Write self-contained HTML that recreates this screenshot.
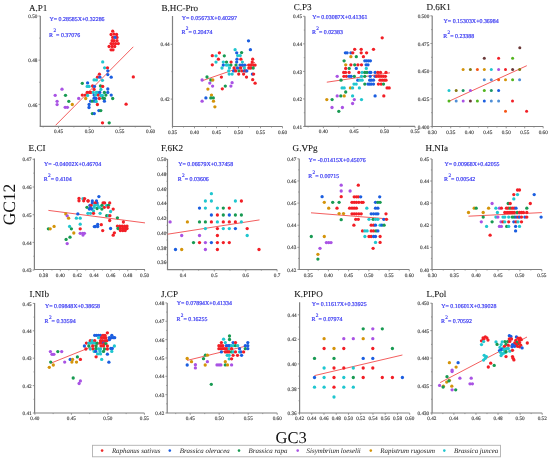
<!DOCTYPE html>
<html><head><meta charset="utf-8"><style>
html,body{margin:0;padding:0;background:#fff;}
svg{display:block;font-family:"Liberation Serif", serif;text-rendering:geometricPrecision;will-change:transform;}
</style></head><body>
<svg width="550" height="460" viewBox="0 0 550 460">
<rect width="550" height="460" fill="#fff"/>
<line x1="40.30" y1="16.00" x2="40.30" y2="126.40" stroke="#808080" stroke-width="1.2"/>
<line x1="39.70" y1="126.40" x2="150.60" y2="126.40" stroke="#808080" stroke-width="1.2"/>
<line x1="58.50" y1="126.40" x2="58.50" y2="128.20" stroke="#808080" stroke-width="0.8"/>
<text x="58.50" y="133.40" font-size="5.2" fill="#484848" text-anchor="middle" stroke="#484848" stroke-width="0.16">0.45</text>
<line x1="89.20" y1="126.40" x2="89.20" y2="128.20" stroke="#808080" stroke-width="0.8"/>
<text x="89.20" y="133.40" font-size="5.2" fill="#484848" text-anchor="middle" stroke="#484848" stroke-width="0.16">0.50</text>
<line x1="119.90" y1="126.40" x2="119.90" y2="128.20" stroke="#808080" stroke-width="0.8"/>
<text x="119.90" y="133.40" font-size="5.2" fill="#484848" text-anchor="middle" stroke="#484848" stroke-width="0.16">0.55</text>
<line x1="150.60" y1="126.40" x2="150.60" y2="128.20" stroke="#808080" stroke-width="0.8"/>
<text x="150.60" y="133.40" font-size="5.2" fill="#484848" text-anchor="middle" stroke="#484848" stroke-width="0.16">0.60</text>
<line x1="43.15" y1="126.40" x2="43.15" y2="127.50" stroke="#808080" stroke-width="0.7"/>
<line x1="73.85" y1="126.40" x2="73.85" y2="127.50" stroke="#808080" stroke-width="0.7"/>
<line x1="104.55" y1="126.40" x2="104.55" y2="127.50" stroke="#808080" stroke-width="0.7"/>
<line x1="135.25" y1="126.40" x2="135.25" y2="127.50" stroke="#808080" stroke-width="0.7"/>
<line x1="40.30" y1="16.00" x2="38.50" y2="16.00" stroke="#808080" stroke-width="0.8"/>
<text x="37.40" y="18.10" font-size="5.2" fill="#484848" text-anchor="end" stroke="#484848" stroke-width="0.16">0.50</text>
<line x1="40.30" y1="60.20" x2="38.50" y2="60.20" stroke="#808080" stroke-width="0.8"/>
<text x="37.40" y="62.30" font-size="5.2" fill="#484848" text-anchor="end" stroke="#484848" stroke-width="0.16">0.48</text>
<line x1="40.30" y1="104.40" x2="38.50" y2="104.40" stroke="#808080" stroke-width="0.8"/>
<text x="37.40" y="106.50" font-size="5.2" fill="#484848" text-anchor="end" stroke="#484848" stroke-width="0.16">0.46</text>
<line x1="40.30" y1="38.10" x2="39.20" y2="38.10" stroke="#808080" stroke-width="0.7"/>
<line x1="40.30" y1="82.30" x2="39.20" y2="82.30" stroke="#808080" stroke-width="0.7"/>
<text x="28.90" y="10.60" font-size="9.1" fill="#151515" text-anchor="start" stroke="#151515" stroke-width="0.1">A.P1</text>
<text x="49.50" y="21.10" font-size="5.92" fill="#3c3cf2" text-anchor="start" stroke="#3c3cf2" stroke-width="0.2">Y= 0.28585X+0.32286</text>
<text x="49.10" y="36.50" font-size="5.92" fill="#3c3cf2" text-anchor="start" stroke="#3c3cf2" stroke-width="0.2">R</text>
<text x="53.40" y="32.40" font-size="5.3" fill="#3c3cf2" text-anchor="start" stroke="#3c3cf2" stroke-width="0.2">2</text>
<text x="56.10" y="36.50" font-size="5.92" fill="#3c3cf2" text-anchor="start" stroke="#3c3cf2" stroke-width="0.2">= 0.37076</text>
<line x1="55.60" y1="125.30" x2="133.30" y2="46.80" stroke="#f25555" stroke-width="0.95"/>
<circle cx="112.7" cy="31.2" r="1.65" fill="#f21f26"/>
<circle cx="111.1" cy="34.5" r="1.65" fill="#f21f26"/>
<circle cx="114.0" cy="34.1" r="1.65" fill="#f21f26"/>
<circle cx="116.6" cy="34.5" r="1.65" fill="#f21f26"/>
<circle cx="112.7" cy="37.4" r="1.65" fill="#f21f26"/>
<circle cx="117.0" cy="37.4" r="1.65" fill="#f21f26"/>
<circle cx="115.0" cy="37.4" r="1.65" fill="#1b5ee0"/>
<circle cx="112.1" cy="40.7" r="1.65" fill="#f21f26"/>
<circle cx="114.0" cy="40.7" r="1.65" fill="#f21f26"/>
<circle cx="117.0" cy="40.7" r="1.65" fill="#f21f26"/>
<circle cx="111.1" cy="43.6" r="1.65" fill="#f21f26"/>
<circle cx="113.4" cy="43.6" r="1.65" fill="#f21f26"/>
<circle cx="115.7" cy="43.6" r="1.65" fill="#f21f26"/>
<circle cx="118.3" cy="43.6" r="1.65" fill="#f21f26"/>
<circle cx="109.1" cy="46.5" r="1.65" fill="#f21f26"/>
<circle cx="112.1" cy="46.5" r="1.65" fill="#f21f26"/>
<circle cx="114.7" cy="46.5" r="1.65" fill="#f21f26"/>
<circle cx="111.1" cy="49.8" r="1.65" fill="#f21f26"/>
<circle cx="113.0" cy="49.8" r="1.65" fill="#f21f26"/>
<circle cx="102.7" cy="61.9" r="1.65" fill="#20c6cf"/>
<circle cx="104.6" cy="67.8" r="1.65" fill="#20c6cf"/>
<circle cx="107.5" cy="67.8" r="1.65" fill="#f21f26"/>
<circle cx="133.3" cy="76.9" r="1.65" fill="#f21f26"/>
<circle cx="126.1" cy="104.2" r="1.65" fill="#f21f26"/>
<circle cx="107.8" cy="70.8" r="1.65" fill="#1b5ee0"/>
<circle cx="99.4" cy="74.2" r="1.65" fill="#f21f26"/>
<circle cx="107.8" cy="74.6" r="1.65" fill="#1b5ee0"/>
<circle cx="97.5" cy="77.2" r="1.65" fill="#f21f26"/>
<circle cx="99.9" cy="77.2" r="1.65" fill="#1b5ee0"/>
<circle cx="111.2" cy="77.2" r="1.65" fill="#1b5ee0"/>
<circle cx="94.1" cy="79.9" r="1.65" fill="#20c6cf"/>
<circle cx="96.4" cy="79.9" r="1.65" fill="#20c6cf"/>
<circle cx="102.4" cy="80.3" r="1.65" fill="#20c6cf"/>
<circle cx="82.3" cy="83.3" r="1.65" fill="#189a52"/>
<circle cx="87.6" cy="82.9" r="1.65" fill="#1b5ee0"/>
<circle cx="87.2" cy="86.4" r="1.65" fill="#20c6cf"/>
<circle cx="89.1" cy="86.4" r="1.65" fill="#20c6cf"/>
<circle cx="92.6" cy="86.0" r="1.65" fill="#f21f26"/>
<circle cx="94.5" cy="86.4" r="1.65" fill="#1b5ee0"/>
<circle cx="100.5" cy="86.0" r="1.65" fill="#189a52"/>
<circle cx="102.7" cy="86.4" r="1.65" fill="#f21f26"/>
<circle cx="94.1" cy="89.4" r="1.65" fill="#f21f26"/>
<circle cx="100.9" cy="89.4" r="1.65" fill="#20c6cf"/>
<circle cx="107.8" cy="89.0" r="1.65" fill="#1b5ee0"/>
<circle cx="87.2" cy="92.4" r="1.65" fill="#f21f26"/>
<circle cx="89.5" cy="92.4" r="1.65" fill="#f21f26"/>
<circle cx="90.7" cy="92.4" r="1.65" fill="#f21f26"/>
<circle cx="93.3" cy="92.4" r="1.65" fill="#20c6cf"/>
<circle cx="96.4" cy="92.4" r="1.65" fill="#20c6cf"/>
<circle cx="97.9" cy="92.4" r="1.65" fill="#20c6cf"/>
<circle cx="99.8" cy="92.4" r="1.65" fill="#1b5ee0"/>
<circle cx="104.4" cy="92.4" r="1.65" fill="#189a52"/>
<circle cx="107.8" cy="92.4" r="1.65" fill="#1b5ee0"/>
<circle cx="82.3" cy="95.1" r="1.65" fill="#f21f26"/>
<circle cx="85.3" cy="95.1" r="1.65" fill="#f21f26"/>
<circle cx="87.6" cy="95.5" r="1.65" fill="#20c6cf"/>
<circle cx="94.1" cy="95.1" r="1.65" fill="#1b5ee0"/>
<circle cx="95.6" cy="95.1" r="1.65" fill="#20c6cf"/>
<circle cx="98.3" cy="95.1" r="1.65" fill="#f21f26"/>
<circle cx="100.9" cy="95.5" r="1.65" fill="#20c6cf"/>
<circle cx="102.4" cy="95.5" r="1.65" fill="#20c6cf"/>
<circle cx="105.9" cy="95.1" r="1.65" fill="#189a52"/>
<circle cx="111.2" cy="95.1" r="1.65" fill="#1b5ee0"/>
<circle cx="85.7" cy="98.5" r="1.65" fill="#d4940a"/>
<circle cx="94.1" cy="98.2" r="1.65" fill="#1b5ee0"/>
<circle cx="96.0" cy="98.5" r="1.65" fill="#1b5ee0"/>
<circle cx="99.4" cy="98.5" r="1.65" fill="#f21f26"/>
<circle cx="102.8" cy="98.2" r="1.65" fill="#189a52"/>
<circle cx="104.4" cy="98.5" r="1.65" fill="#189a52"/>
<circle cx="112.7" cy="98.5" r="1.65" fill="#189a52"/>
<circle cx="90.7" cy="101.2" r="1.65" fill="#1b5ee0"/>
<circle cx="92.6" cy="101.2" r="1.65" fill="#189a52"/>
<circle cx="94.8" cy="101.2" r="1.65" fill="#1b5ee0"/>
<circle cx="104.4" cy="101.2" r="1.65" fill="#1b5ee0"/>
<circle cx="96.2" cy="101.5" r="1.65" fill="#20c6cf"/>
<circle cx="89.1" cy="104.5" r="1.65" fill="#1b5ee0"/>
<circle cx="97.4" cy="104.5" r="1.65" fill="#f21f26"/>
<circle cx="89.0" cy="107.5" r="1.65" fill="#1b5ee0"/>
<circle cx="98.9" cy="110.6" r="1.65" fill="#1b5ee0"/>
<circle cx="100.8" cy="110.6" r="1.65" fill="#189a52"/>
<circle cx="92.4" cy="113.6" r="1.65" fill="#189a52"/>
<circle cx="94.3" cy="113.6" r="1.65" fill="#1b5ee0"/>
<circle cx="102.5" cy="122.8" r="1.65" fill="#f21f26"/>
<circle cx="109.2" cy="122.8" r="1.65" fill="#189a52"/>
<circle cx="62.0" cy="89.2" r="1.65" fill="#a953e4"/>
<circle cx="55.2" cy="95.3" r="1.65" fill="#a953e4"/>
<circle cx="65.5" cy="95.3" r="1.65" fill="#189a52"/>
<circle cx="57.1" cy="101.3" r="1.65" fill="#a953e4"/>
<circle cx="57.1" cy="104.6" r="1.65" fill="#a953e4"/>
<circle cx="68.8" cy="101.3" r="1.65" fill="#189a52"/>
<circle cx="72.3" cy="104.5" r="1.65" fill="#d4940a"/>
<circle cx="65.2" cy="107.3" r="1.65" fill="#a953e4"/>
<circle cx="67.4" cy="107.3" r="1.65" fill="#a953e4"/>
<circle cx="78.7" cy="98.4" r="1.65" fill="#a953e4"/>
<line x1="172.50" y1="16.00" x2="172.50" y2="126.50" stroke="#808080" stroke-width="1.2"/>
<line x1="171.90" y1="126.50" x2="282.50" y2="126.50" stroke="#808080" stroke-width="1.2"/>
<line x1="172.50" y1="126.50" x2="172.50" y2="128.30" stroke="#808080" stroke-width="0.8"/>
<text x="172.50" y="133.50" font-size="5.2" fill="#484848" text-anchor="middle" stroke="#484848" stroke-width="0.16">0.35</text>
<line x1="194.50" y1="126.50" x2="194.50" y2="128.30" stroke="#808080" stroke-width="0.8"/>
<text x="194.50" y="133.50" font-size="5.2" fill="#484848" text-anchor="middle" stroke="#484848" stroke-width="0.16">0.40</text>
<line x1="216.50" y1="126.50" x2="216.50" y2="128.30" stroke="#808080" stroke-width="0.8"/>
<text x="216.50" y="133.50" font-size="5.2" fill="#484848" text-anchor="middle" stroke="#484848" stroke-width="0.16">0.45</text>
<line x1="238.50" y1="126.50" x2="238.50" y2="128.30" stroke="#808080" stroke-width="0.8"/>
<text x="238.50" y="133.50" font-size="5.2" fill="#484848" text-anchor="middle" stroke="#484848" stroke-width="0.16">0.50</text>
<line x1="260.50" y1="126.50" x2="260.50" y2="128.30" stroke="#808080" stroke-width="0.8"/>
<text x="260.50" y="133.50" font-size="5.2" fill="#484848" text-anchor="middle" stroke="#484848" stroke-width="0.16">0.55</text>
<line x1="282.50" y1="126.50" x2="282.50" y2="128.30" stroke="#808080" stroke-width="0.8"/>
<text x="282.50" y="133.50" font-size="5.2" fill="#484848" text-anchor="middle" stroke="#484848" stroke-width="0.16">0.60</text>
<line x1="183.50" y1="126.50" x2="183.50" y2="127.60" stroke="#808080" stroke-width="0.7"/>
<line x1="205.50" y1="126.50" x2="205.50" y2="127.60" stroke="#808080" stroke-width="0.7"/>
<line x1="227.50" y1="126.50" x2="227.50" y2="127.60" stroke="#808080" stroke-width="0.7"/>
<line x1="249.50" y1="126.50" x2="249.50" y2="127.60" stroke="#808080" stroke-width="0.7"/>
<line x1="271.50" y1="126.50" x2="271.50" y2="127.60" stroke="#808080" stroke-width="0.7"/>
<line x1="172.50" y1="44.30" x2="170.70" y2="44.30" stroke="#808080" stroke-width="0.8"/>
<text x="169.60" y="46.40" font-size="5.2" fill="#484848" text-anchor="end" stroke="#484848" stroke-width="0.16">0.44</text>
<line x1="172.50" y1="99.10" x2="170.70" y2="99.10" stroke="#808080" stroke-width="0.8"/>
<text x="169.60" y="101.20" font-size="5.2" fill="#484848" text-anchor="end" stroke="#484848" stroke-width="0.16">0.42</text>
<line x1="172.50" y1="71.70" x2="171.40" y2="71.70" stroke="#808080" stroke-width="0.7"/>
<text x="161.50" y="10.60" font-size="9.1" fill="#151515" text-anchor="start" stroke="#151515" stroke-width="0.1">B.HC-Pro</text>
<text x="181.80" y="19.60" font-size="5.92" fill="#3c3cf2" text-anchor="start" stroke="#3c3cf2" stroke-width="0.2">Y= 0.05673X+0.40297</text>
<text x="181.40" y="34.20" font-size="5.92" fill="#3c3cf2" text-anchor="start" stroke="#3c3cf2" stroke-width="0.2">R</text>
<text x="185.70" y="30.10" font-size="5.3" fill="#3c3cf2" text-anchor="start" stroke="#3c3cf2" stroke-width="0.2">2</text>
<text x="188.40" y="34.20" font-size="5.92" fill="#3c3cf2" text-anchor="start" stroke="#3c3cf2" stroke-width="0.2">= 0.20474</text>
<line x1="202.40" y1="80.70" x2="255.00" y2="62.40" stroke="#f25555" stroke-width="0.95"/>
<circle cx="250.4" cy="49.7" r="1.65" fill="#1b5ee0"/>
<circle cx="235.1" cy="49.7" r="1.65" fill="#20c6cf"/>
<circle cx="219.4" cy="52.8" r="1.65" fill="#f21f26"/>
<circle cx="236.7" cy="52.8" r="1.65" fill="#1b5ee0"/>
<circle cx="241.6" cy="52.6" r="1.65" fill="#189a52"/>
<circle cx="224.3" cy="55.8" r="1.65" fill="#189a52"/>
<circle cx="237.7" cy="55.6" r="1.65" fill="#20c6cf"/>
<circle cx="240.2" cy="55.6" r="1.65" fill="#20c6cf"/>
<circle cx="218.4" cy="59.2" r="1.65" fill="#f21f26"/>
<circle cx="237.0" cy="59.2" r="1.65" fill="#1b5ee0"/>
<circle cx="240.9" cy="59.2" r="1.65" fill="#f21f26"/>
<circle cx="252.7" cy="59.2" r="1.65" fill="#f21f26"/>
<circle cx="216.0" cy="55.8" r="1.65" fill="#20c6cf"/>
<circle cx="216.0" cy="62.1" r="1.65" fill="#20c6cf"/>
<circle cx="223.3" cy="62.1" r="1.65" fill="#20c6cf"/>
<circle cx="226.5" cy="62.1" r="1.65" fill="#189a52"/>
<circle cx="231.1" cy="62.1" r="1.65" fill="#f21f26"/>
<circle cx="236.7" cy="62.1" r="1.65" fill="#1b5ee0"/>
<circle cx="242.4" cy="62.1" r="1.65" fill="#20c6cf"/>
<circle cx="252.2" cy="62.1" r="1.65" fill="#f21f26"/>
<circle cx="223.3" cy="65.1" r="1.65" fill="#1b5ee0"/>
<circle cx="226.3" cy="65.1" r="1.65" fill="#20c6cf"/>
<circle cx="228.2" cy="65.1" r="1.65" fill="#20c6cf"/>
<circle cx="230.9" cy="65.1" r="1.65" fill="#189a52"/>
<circle cx="236.0" cy="65.1" r="1.65" fill="#189a52"/>
<circle cx="240.0" cy="65.1" r="1.65" fill="#1b5ee0"/>
<circle cx="242.4" cy="65.1" r="1.65" fill="#1b5ee0"/>
<circle cx="244.8" cy="65.1" r="1.65" fill="#1b5ee0"/>
<circle cx="248.8" cy="65.1" r="1.65" fill="#f21f26"/>
<circle cx="251.2" cy="65.1" r="1.65" fill="#f21f26"/>
<circle cx="253.6" cy="65.1" r="1.65" fill="#f21f26"/>
<circle cx="255.1" cy="65.1" r="1.65" fill="#f21f26"/>
<circle cx="222.0" cy="68.0" r="1.65" fill="#20c6cf"/>
<circle cx="229.5" cy="68.0" r="1.65" fill="#20c6cf"/>
<circle cx="234.1" cy="68.0" r="1.65" fill="#f21f26"/>
<circle cx="237.5" cy="68.0" r="1.65" fill="#1b5ee0"/>
<circle cx="240.6" cy="68.0" r="1.65" fill="#f21f26"/>
<circle cx="244.4" cy="68.0" r="1.65" fill="#20c6cf"/>
<circle cx="248.8" cy="68.0" r="1.65" fill="#f21f26"/>
<circle cx="250.7" cy="68.0" r="1.65" fill="#f21f26"/>
<circle cx="253.2" cy="68.0" r="1.65" fill="#189a52"/>
<circle cx="228.7" cy="70.9" r="1.65" fill="#20c6cf"/>
<circle cx="233.6" cy="70.9" r="1.65" fill="#1b5ee0"/>
<circle cx="235.7" cy="70.9" r="1.65" fill="#f21f26"/>
<circle cx="239.0" cy="70.9" r="1.65" fill="#189a52"/>
<circle cx="241.9" cy="70.9" r="1.65" fill="#f21f26"/>
<circle cx="244.4" cy="70.9" r="1.65" fill="#1b5ee0"/>
<circle cx="245.8" cy="70.9" r="1.65" fill="#f21f26"/>
<circle cx="246.8" cy="70.9" r="1.65" fill="#1b5ee0"/>
<circle cx="229.2" cy="74.1" r="1.65" fill="#20c6cf"/>
<circle cx="232.1" cy="74.1" r="1.65" fill="#20c6cf"/>
<circle cx="238.7" cy="74.1" r="1.65" fill="#f21f26"/>
<circle cx="243.6" cy="74.1" r="1.65" fill="#f21f26"/>
<circle cx="252.4" cy="74.1" r="1.65" fill="#1b5ee0"/>
<circle cx="253.6" cy="74.1" r="1.65" fill="#f21f26"/>
<circle cx="221.4" cy="77.1" r="1.65" fill="#f21f26"/>
<circle cx="246.5" cy="77.1" r="1.65" fill="#f21f26"/>
<circle cx="252.7" cy="79.7" r="1.65" fill="#f21f26"/>
<circle cx="255.1" cy="83.2" r="1.65" fill="#f21f26"/>
<circle cx="232.1" cy="82.7" r="1.65" fill="#a953e4"/>
<circle cx="230.9" cy="86.1" r="1.65" fill="#a953e4"/>
<circle cx="225.3" cy="86.1" r="1.65" fill="#189a52"/>
<circle cx="222.3" cy="88.8" r="1.65" fill="#f21f26"/>
<circle cx="248.5" cy="40.8" r="1.65" fill="#1b5ee0"/>
<circle cx="212.3" cy="55.7" r="1.65" fill="#f21f26"/>
<circle cx="212.3" cy="64.8" r="1.65" fill="#f21f26"/>
<circle cx="207.0" cy="77.0" r="1.65" fill="#189a52"/>
<circle cx="202.1" cy="80.0" r="1.65" fill="#a953e4"/>
<circle cx="210.8" cy="80.0" r="1.65" fill="#189a52"/>
<circle cx="212.8" cy="80.0" r="1.65" fill="#d4940a"/>
<circle cx="209.8" cy="83.1" r="1.65" fill="#a953e4"/>
<circle cx="212.6" cy="86.1" r="1.65" fill="#a953e4"/>
<circle cx="207.9" cy="89.1" r="1.65" fill="#d4940a"/>
<circle cx="211.5" cy="95.1" r="1.65" fill="#d4940a"/>
<circle cx="205.9" cy="97.9" r="1.65" fill="#1b5ee0"/>
<circle cx="210.8" cy="97.9" r="1.65" fill="#189a52"/>
<circle cx="213.3" cy="97.9" r="1.65" fill="#189a52"/>
<circle cx="202.1" cy="101.2" r="1.65" fill="#a953e4"/>
<circle cx="213.5" cy="101.2" r="1.65" fill="#d4940a"/>
<circle cx="214.9" cy="106.8" r="1.65" fill="#d4940a"/>
<line x1="304.90" y1="16.30" x2="304.90" y2="126.40" stroke="#808080" stroke-width="1.2"/>
<line x1="304.30" y1="126.40" x2="415.10" y2="126.40" stroke="#808080" stroke-width="1.2"/>
<line x1="323.40" y1="126.40" x2="323.40" y2="128.20" stroke="#808080" stroke-width="0.8"/>
<text x="323.40" y="133.40" font-size="5.2" fill="#484848" text-anchor="middle" stroke="#484848" stroke-width="0.16">0.40</text>
<line x1="353.97" y1="126.40" x2="353.97" y2="128.20" stroke="#808080" stroke-width="0.8"/>
<text x="353.97" y="133.40" font-size="5.2" fill="#484848" text-anchor="middle" stroke="#484848" stroke-width="0.16">0.45</text>
<line x1="384.53" y1="126.40" x2="384.53" y2="128.20" stroke="#808080" stroke-width="0.8"/>
<text x="384.53" y="133.40" font-size="5.2" fill="#484848" text-anchor="middle" stroke="#484848" stroke-width="0.16">0.50</text>
<line x1="415.10" y1="126.40" x2="415.10" y2="128.20" stroke="#808080" stroke-width="0.8"/>
<text x="415.10" y="133.40" font-size="5.2" fill="#484848" text-anchor="middle" stroke="#484848" stroke-width="0.16">0.55</text>
<line x1="308.12" y1="126.40" x2="308.12" y2="127.50" stroke="#808080" stroke-width="0.7"/>
<line x1="338.68" y1="126.40" x2="338.68" y2="127.50" stroke="#808080" stroke-width="0.7"/>
<line x1="369.25" y1="126.40" x2="369.25" y2="127.50" stroke="#808080" stroke-width="0.7"/>
<line x1="399.82" y1="126.40" x2="399.82" y2="127.50" stroke="#808080" stroke-width="0.7"/>
<line x1="304.90" y1="16.30" x2="303.10" y2="16.30" stroke="#808080" stroke-width="0.8"/>
<text x="302.00" y="18.40" font-size="5.2" fill="#484848" text-anchor="end" stroke="#484848" stroke-width="0.16">0.45</text>
<line x1="304.90" y1="43.85" x2="303.10" y2="43.85" stroke="#808080" stroke-width="0.8"/>
<text x="302.00" y="45.95" font-size="5.2" fill="#484848" text-anchor="end" stroke="#484848" stroke-width="0.16">0.44</text>
<line x1="304.90" y1="71.40" x2="303.10" y2="71.40" stroke="#808080" stroke-width="0.8"/>
<text x="302.00" y="73.50" font-size="5.2" fill="#484848" text-anchor="end" stroke="#484848" stroke-width="0.16">0.43</text>
<line x1="304.90" y1="98.95" x2="303.10" y2="98.95" stroke="#808080" stroke-width="0.8"/>
<text x="302.00" y="101.05" font-size="5.2" fill="#484848" text-anchor="end" stroke="#484848" stroke-width="0.16">0.42</text>
<line x1="304.90" y1="126.50" x2="303.10" y2="126.50" stroke="#808080" stroke-width="0.8"/>
<text x="302.00" y="128.60" font-size="5.2" fill="#484848" text-anchor="end" stroke="#484848" stroke-width="0.16">0.41</text>
<line x1="304.90" y1="30.07" x2="303.80" y2="30.07" stroke="#808080" stroke-width="0.7"/>
<line x1="304.90" y1="57.62" x2="303.80" y2="57.62" stroke="#808080" stroke-width="0.7"/>
<line x1="304.90" y1="85.17" x2="303.80" y2="85.17" stroke="#808080" stroke-width="0.7"/>
<line x1="304.90" y1="112.72" x2="303.80" y2="112.72" stroke="#808080" stroke-width="0.7"/>
<text x="293.70" y="10.40" font-size="9.1" fill="#151515" text-anchor="start" stroke="#151515" stroke-width="0.1">C.P3</text>
<text x="312.30" y="18.60" font-size="5.92" fill="#3c3cf2" text-anchor="start" stroke="#3c3cf2" stroke-width="0.2">Y= 0.03087X+0.41361</text>
<text x="311.90" y="34.00" font-size="5.92" fill="#3c3cf2" text-anchor="start" stroke="#3c3cf2" stroke-width="0.2">R</text>
<text x="316.20" y="29.90" font-size="5.3" fill="#3c3cf2" text-anchor="start" stroke="#3c3cf2" stroke-width="0.2">2</text>
<text x="318.90" y="34.00" font-size="5.92" fill="#3c3cf2" text-anchor="start" stroke="#3c3cf2" stroke-width="0.2">= 0.02383</text>
<line x1="326.80" y1="82.20" x2="390.00" y2="72.80" stroke="#f25555" stroke-width="0.95"/>
<circle cx="382.2" cy="37.8" r="1.65" fill="#f21f26"/>
<circle cx="354.7" cy="49.3" r="1.65" fill="#f21f26"/>
<circle cx="361.2" cy="49.3" r="1.65" fill="#f21f26"/>
<circle cx="373.5" cy="49.3" r="1.65" fill="#f21f26"/>
<circle cx="345.4" cy="52.8" r="1.65" fill="#1b5ee0"/>
<circle cx="347.1" cy="52.8" r="1.65" fill="#1b5ee0"/>
<circle cx="350.9" cy="52.8" r="1.65" fill="#1b5ee0"/>
<circle cx="352.8" cy="52.8" r="1.65" fill="#f21f26"/>
<circle cx="361.2" cy="52.8" r="1.65" fill="#f21f26"/>
<circle cx="366.6" cy="52.8" r="1.65" fill="#f21f26"/>
<circle cx="350.9" cy="56.7" r="1.65" fill="#d4940a"/>
<circle cx="356.3" cy="56.7" r="1.65" fill="#189a52"/>
<circle cx="363.4" cy="56.7" r="1.65" fill="#f21f26"/>
<circle cx="344.1" cy="60.8" r="1.65" fill="#189a52"/>
<circle cx="364.8" cy="60.8" r="1.65" fill="#1b5ee0"/>
<circle cx="366.6" cy="60.8" r="1.65" fill="#1b5ee0"/>
<circle cx="368.5" cy="60.8" r="1.65" fill="#1b5ee0"/>
<circle cx="370.4" cy="60.8" r="1.65" fill="#1b5ee0"/>
<circle cx="345.7" cy="64.8" r="1.65" fill="#d4940a"/>
<circle cx="350.9" cy="64.8" r="1.65" fill="#f21f26"/>
<circle cx="354.7" cy="64.8" r="1.65" fill="#189a52"/>
<circle cx="357.9" cy="64.8" r="1.65" fill="#f21f26"/>
<circle cx="361.5" cy="64.8" r="1.65" fill="#f21f26"/>
<circle cx="366.1" cy="64.8" r="1.65" fill="#1b5ee0"/>
<circle cx="368.0" cy="64.8" r="1.65" fill="#1b5ee0"/>
<circle cx="345.7" cy="68.4" r="1.65" fill="#f21f26"/>
<circle cx="349.2" cy="68.4" r="1.65" fill="#189a52"/>
<circle cx="356.3" cy="68.4" r="1.65" fill="#1b5ee0"/>
<circle cx="366.3" cy="68.4" r="1.65" fill="#20c6cf"/>
<circle cx="343.7" cy="72.4" r="1.65" fill="#f21f26"/>
<circle cx="345.5" cy="72.4" r="1.65" fill="#f21f26"/>
<circle cx="349.1" cy="72.4" r="1.65" fill="#f21f26"/>
<circle cx="358.9" cy="72.4" r="1.65" fill="#f21f26"/>
<circle cx="362.1" cy="72.4" r="1.65" fill="#20c6cf"/>
<circle cx="364.8" cy="72.4" r="1.65" fill="#189a52"/>
<circle cx="367.0" cy="72.4" r="1.65" fill="#189a52"/>
<circle cx="369.7" cy="72.4" r="1.65" fill="#1b5ee0"/>
<circle cx="370.8" cy="72.4" r="1.65" fill="#1b5ee0"/>
<circle cx="375.1" cy="72.4" r="1.65" fill="#1b5ee0"/>
<circle cx="377.8" cy="72.4" r="1.65" fill="#f21f26"/>
<circle cx="380.5" cy="72.4" r="1.65" fill="#f21f26"/>
<circle cx="386.0" cy="72.4" r="1.65" fill="#f21f26"/>
<circle cx="337.2" cy="76.3" r="1.65" fill="#a953e4"/>
<circle cx="343.9" cy="76.3" r="1.65" fill="#f21f26"/>
<circle cx="346.4" cy="76.3" r="1.65" fill="#f21f26"/>
<circle cx="349.1" cy="76.3" r="1.65" fill="#1b5ee0"/>
<circle cx="351.1" cy="76.3" r="1.65" fill="#1b5ee0"/>
<circle cx="354.3" cy="76.3" r="1.65" fill="#189a52"/>
<circle cx="361.5" cy="76.3" r="1.65" fill="#20c6cf"/>
<circle cx="364.8" cy="76.3" r="1.65" fill="#189a52"/>
<circle cx="370.2" cy="76.3" r="1.65" fill="#1b5ee0"/>
<circle cx="375.1" cy="76.3" r="1.65" fill="#1b5ee0"/>
<circle cx="376.7" cy="76.3" r="1.65" fill="#f21f26"/>
<circle cx="378.9" cy="76.3" r="1.65" fill="#f21f26"/>
<circle cx="381.1" cy="76.3" r="1.65" fill="#f21f26"/>
<circle cx="383.3" cy="76.3" r="1.65" fill="#f21f26"/>
<circle cx="385.4" cy="76.3" r="1.65" fill="#f21f26"/>
<circle cx="341.0" cy="80.2" r="1.65" fill="#189a52"/>
<circle cx="357.8" cy="80.2" r="1.65" fill="#1b5ee0"/>
<circle cx="359.9" cy="80.2" r="1.65" fill="#20c6cf"/>
<circle cx="362.1" cy="80.2" r="1.65" fill="#20c6cf"/>
<circle cx="369.7" cy="80.2" r="1.65" fill="#1b5ee0"/>
<circle cx="371.3" cy="80.2" r="1.65" fill="#1b5ee0"/>
<circle cx="373.5" cy="80.2" r="1.65" fill="#1b5ee0"/>
<circle cx="380.0" cy="80.2" r="1.65" fill="#f21f26"/>
<circle cx="382.2" cy="80.2" r="1.65" fill="#f21f26"/>
<circle cx="384.3" cy="80.2" r="1.65" fill="#f21f26"/>
<circle cx="386.0" cy="80.2" r="1.65" fill="#f21f26"/>
<circle cx="354.0" cy="84.1" r="1.65" fill="#20c6cf"/>
<circle cx="356.2" cy="84.1" r="1.65" fill="#20c6cf"/>
<circle cx="364.8" cy="84.1" r="1.65" fill="#189a52"/>
<circle cx="368.0" cy="84.1" r="1.65" fill="#1b5ee0"/>
<circle cx="369.7" cy="84.1" r="1.65" fill="#1b5ee0"/>
<circle cx="371.3" cy="84.1" r="1.65" fill="#1b5ee0"/>
<circle cx="373.5" cy="84.1" r="1.65" fill="#1b5ee0"/>
<circle cx="378.4" cy="84.1" r="1.65" fill="#f21f26"/>
<circle cx="381.1" cy="84.1" r="1.65" fill="#f21f26"/>
<circle cx="383.5" cy="84.1" r="1.65" fill="#189a52"/>
<circle cx="342.1" cy="87.9" r="1.65" fill="#20c6cf"/>
<circle cx="344.2" cy="87.9" r="1.65" fill="#20c6cf"/>
<circle cx="350.4" cy="87.9" r="1.65" fill="#d4940a"/>
<circle cx="352.6" cy="87.9" r="1.65" fill="#20c6cf"/>
<circle cx="359.4" cy="87.9" r="1.65" fill="#20c6cf"/>
<circle cx="387.1" cy="87.9" r="1.65" fill="#f21f26"/>
<circle cx="389.2" cy="87.9" r="1.65" fill="#f21f26"/>
<circle cx="345.7" cy="92.0" r="1.65" fill="#189a52"/>
<circle cx="337.2" cy="95.9" r="1.65" fill="#a953e4"/>
<circle cx="340.8" cy="95.9" r="1.65" fill="#189a52"/>
<circle cx="344.2" cy="95.9" r="1.65" fill="#d4940a"/>
<circle cx="352.6" cy="95.9" r="1.65" fill="#20c6cf"/>
<circle cx="375.1" cy="95.9" r="1.65" fill="#1b5ee0"/>
<circle cx="383.8" cy="95.9" r="1.65" fill="#f21f26"/>
<circle cx="326.8" cy="99.6" r="1.65" fill="#d4940a"/>
<circle cx="332.1" cy="99.6" r="1.65" fill="#189a52"/>
<circle cx="354.3" cy="99.6" r="1.65" fill="#a953e4"/>
<circle cx="361.5" cy="99.6" r="1.65" fill="#20c6cf"/>
<circle cx="352.6" cy="103.5" r="1.65" fill="#a953e4"/>
<circle cx="332.0" cy="107.5" r="1.65" fill="#a953e4"/>
<circle cx="342.4" cy="107.5" r="1.65" fill="#a953e4"/>
<circle cx="338.8" cy="111.3" r="1.65" fill="#189a52"/>
<line x1="432.20" y1="15.80" x2="432.20" y2="126.50" stroke="#808080" stroke-width="1.2"/>
<line x1="431.60" y1="126.50" x2="543.20" y2="126.50" stroke="#808080" stroke-width="1.2"/>
<line x1="432.20" y1="126.50" x2="432.20" y2="128.30" stroke="#808080" stroke-width="0.8"/>
<text x="432.20" y="133.50" font-size="5.2" fill="#484848" text-anchor="middle" stroke="#484848" stroke-width="0.16">0.30</text>
<line x1="450.70" y1="126.50" x2="450.70" y2="128.30" stroke="#808080" stroke-width="0.8"/>
<text x="450.70" y="133.50" font-size="5.2" fill="#484848" text-anchor="middle" stroke="#484848" stroke-width="0.16">0.35</text>
<line x1="469.20" y1="126.50" x2="469.20" y2="128.30" stroke="#808080" stroke-width="0.8"/>
<text x="469.20" y="133.50" font-size="5.2" fill="#484848" text-anchor="middle" stroke="#484848" stroke-width="0.16">0.40</text>
<line x1="487.70" y1="126.50" x2="487.70" y2="128.30" stroke="#808080" stroke-width="0.8"/>
<text x="487.70" y="133.50" font-size="5.2" fill="#484848" text-anchor="middle" stroke="#484848" stroke-width="0.16">0.45</text>
<line x1="506.20" y1="126.50" x2="506.20" y2="128.30" stroke="#808080" stroke-width="0.8"/>
<text x="506.20" y="133.50" font-size="5.2" fill="#484848" text-anchor="middle" stroke="#484848" stroke-width="0.16">0.50</text>
<line x1="524.70" y1="126.50" x2="524.70" y2="128.30" stroke="#808080" stroke-width="0.8"/>
<text x="524.70" y="133.50" font-size="5.2" fill="#484848" text-anchor="middle" stroke="#484848" stroke-width="0.16">0.55</text>
<line x1="543.20" y1="126.50" x2="543.20" y2="128.30" stroke="#808080" stroke-width="0.8"/>
<text x="543.20" y="133.50" font-size="5.2" fill="#484848" text-anchor="middle" stroke="#484848" stroke-width="0.16">0.60</text>
<line x1="441.45" y1="126.50" x2="441.45" y2="127.60" stroke="#808080" stroke-width="0.7"/>
<line x1="459.95" y1="126.50" x2="459.95" y2="127.60" stroke="#808080" stroke-width="0.7"/>
<line x1="478.45" y1="126.50" x2="478.45" y2="127.60" stroke="#808080" stroke-width="0.7"/>
<line x1="496.95" y1="126.50" x2="496.95" y2="127.60" stroke="#808080" stroke-width="0.7"/>
<line x1="515.45" y1="126.50" x2="515.45" y2="127.60" stroke="#808080" stroke-width="0.7"/>
<line x1="533.95" y1="126.50" x2="533.95" y2="127.60" stroke="#808080" stroke-width="0.7"/>
<line x1="432.20" y1="15.80" x2="430.40" y2="15.80" stroke="#808080" stroke-width="0.8"/>
<text x="429.30" y="17.90" font-size="5.2" fill="#484848" text-anchor="end" stroke="#484848" stroke-width="0.16">0.500</text>
<line x1="432.20" y1="43.48" x2="430.40" y2="43.48" stroke="#808080" stroke-width="0.8"/>
<text x="429.30" y="45.58" font-size="5.2" fill="#484848" text-anchor="end" stroke="#484848" stroke-width="0.16">0.475</text>
<line x1="432.20" y1="71.15" x2="430.40" y2="71.15" stroke="#808080" stroke-width="0.8"/>
<text x="429.30" y="73.25" font-size="5.2" fill="#484848" text-anchor="end" stroke="#484848" stroke-width="0.16">0.450</text>
<line x1="432.20" y1="98.83" x2="430.40" y2="98.83" stroke="#808080" stroke-width="0.8"/>
<text x="429.30" y="100.93" font-size="5.2" fill="#484848" text-anchor="end" stroke="#484848" stroke-width="0.16">0.425</text>
<line x1="432.20" y1="126.50" x2="430.40" y2="126.50" stroke="#808080" stroke-width="0.8"/>
<text x="429.30" y="128.60" font-size="5.2" fill="#484848" text-anchor="end" stroke="#484848" stroke-width="0.16">0.400</text>
<line x1="432.20" y1="29.64" x2="431.10" y2="29.64" stroke="#808080" stroke-width="0.7"/>
<line x1="432.20" y1="57.31" x2="431.10" y2="57.31" stroke="#808080" stroke-width="0.7"/>
<line x1="432.20" y1="84.99" x2="431.10" y2="84.99" stroke="#808080" stroke-width="0.7"/>
<line x1="432.20" y1="112.66" x2="431.10" y2="112.66" stroke="#808080" stroke-width="0.7"/>
<text x="426.40" y="10.40" font-size="9.1" fill="#151515" text-anchor="start" stroke="#151515" stroke-width="0.1">D.6K1</text>
<text x="443.60" y="22.70" font-size="5.92" fill="#3c3cf2" text-anchor="start" stroke="#3c3cf2" stroke-width="0.2">Y= 0.15303X+0.36984</text>
<text x="443.20" y="37.70" font-size="5.92" fill="#3c3cf2" text-anchor="start" stroke="#3c3cf2" stroke-width="0.2">R</text>
<text x="447.50" y="33.60" font-size="5.3" fill="#3c3cf2" text-anchor="start" stroke="#3c3cf2" stroke-width="0.2">2</text>
<text x="450.20" y="37.70" font-size="5.92" fill="#3c3cf2" text-anchor="start" stroke="#3c3cf2" stroke-width="0.2">= 0.23388</text>
<line x1="449.50" y1="101.00" x2="526.80" y2="65.70" stroke="#f25555" stroke-width="0.95"/>
<circle cx="519.8" cy="47.8" r="1.5" fill="#6a3838"/>
<circle cx="484.3" cy="58.3" r="1.5" fill="#6a3838"/>
<circle cx="498.6" cy="58.3" r="1.5" fill="#f21f26"/>
<circle cx="512.6" cy="58.3" r="1.5" fill="#52b41e"/>
<circle cx="463.1" cy="69.5" r="1.5" fill="#d4940a"/>
<circle cx="470.4" cy="69.5" r="1.5" fill="#857a14"/>
<circle cx="477.4" cy="69.5" r="1.5" fill="#f75516"/>
<circle cx="484.3" cy="69.5" r="1.5" fill="#d4940a"/>
<circle cx="491.3" cy="69.5" r="1.5" fill="#20c6cf"/>
<circle cx="498.6" cy="69.5" r="1.5" fill="#a953e4"/>
<circle cx="505.5" cy="69.5" r="1.5" fill="#f21f26"/>
<circle cx="512.6" cy="69.5" r="1.5" fill="#6a3838"/>
<circle cx="519.6" cy="69.5" r="1.5" fill="#857a14"/>
<circle cx="484.3" cy="79.7" r="1.5" fill="#4f8fd6"/>
<circle cx="491.3" cy="79.7" r="1.5" fill="#4f8fd6"/>
<circle cx="498.6" cy="79.7" r="1.5" fill="#f75516"/>
<circle cx="505.5" cy="79.7" r="1.5" fill="#d4940a"/>
<circle cx="512.6" cy="79.7" r="1.5" fill="#52b41e"/>
<circle cx="519.6" cy="79.7" r="1.5" fill="#4f8fd6"/>
<circle cx="449.0" cy="90.4" r="1.5" fill="#20c6cf"/>
<circle cx="456.2" cy="90.4" r="1.5" fill="#857a14"/>
<circle cx="463.1" cy="90.4" r="1.5" fill="#1e9664"/>
<circle cx="470.4" cy="90.4" r="1.5" fill="#a953e4"/>
<circle cx="484.3" cy="90.4" r="1.5" fill="#52b41e"/>
<circle cx="491.3" cy="90.4" r="1.5" fill="#1e9664"/>
<circle cx="498.6" cy="90.4" r="1.5" fill="#1b5ee0"/>
<circle cx="449.0" cy="101.0" r="1.5" fill="#52b41e"/>
<circle cx="456.2" cy="101.0" r="1.5" fill="#4f8fd6"/>
<circle cx="463.2" cy="101.0" r="1.5" fill="#a953e4"/>
<circle cx="470.4" cy="101.0" r="1.5" fill="#6a3838"/>
<circle cx="477.4" cy="101.0" r="1.5" fill="#52b41e"/>
<circle cx="484.3" cy="101.0" r="1.5" fill="#1b5ee0"/>
<circle cx="491.3" cy="101.0" r="1.5" fill="#4f8fd6"/>
<circle cx="498.6" cy="101.0" r="1.5" fill="#4f8fd6"/>
<circle cx="512.5" cy="101.0" r="1.5" fill="#f21f26"/>
<circle cx="505.5" cy="111.2" r="1.5" fill="#f75516"/>
<circle cx="526.6" cy="111.2" r="1.5" fill="#f21f26"/>
<line x1="34.40" y1="158.50" x2="34.40" y2="269.50" stroke="#808080" stroke-width="1.2"/>
<line x1="33.80" y1="269.50" x2="145.00" y2="269.50" stroke="#808080" stroke-width="1.2"/>
<line x1="43.50" y1="269.50" x2="43.50" y2="271.30" stroke="#808080" stroke-width="0.8"/>
<text x="43.50" y="276.50" font-size="5.2" fill="#484848" text-anchor="middle" stroke="#484848" stroke-width="0.16">0.38</text>
<line x1="60.35" y1="269.50" x2="60.35" y2="271.30" stroke="#808080" stroke-width="0.8"/>
<text x="60.35" y="276.50" font-size="5.2" fill="#484848" text-anchor="middle" stroke="#484848" stroke-width="0.16">0.40</text>
<line x1="77.20" y1="269.50" x2="77.20" y2="271.30" stroke="#808080" stroke-width="0.8"/>
<text x="77.20" y="276.50" font-size="5.2" fill="#484848" text-anchor="middle" stroke="#484848" stroke-width="0.16">0.42</text>
<line x1="94.05" y1="269.50" x2="94.05" y2="271.30" stroke="#808080" stroke-width="0.8"/>
<text x="94.05" y="276.50" font-size="5.2" fill="#484848" text-anchor="middle" stroke="#484848" stroke-width="0.16">0.44</text>
<line x1="110.90" y1="269.50" x2="110.90" y2="271.30" stroke="#808080" stroke-width="0.8"/>
<text x="110.90" y="276.50" font-size="5.2" fill="#484848" text-anchor="middle" stroke="#484848" stroke-width="0.16">0.46</text>
<line x1="127.75" y1="269.50" x2="127.75" y2="271.30" stroke="#808080" stroke-width="0.8"/>
<text x="127.75" y="276.50" font-size="5.2" fill="#484848" text-anchor="middle" stroke="#484848" stroke-width="0.16">0.48</text>
<line x1="144.60" y1="269.50" x2="144.60" y2="271.30" stroke="#808080" stroke-width="0.8"/>
<text x="144.60" y="276.50" font-size="5.2" fill="#484848" text-anchor="middle" stroke="#484848" stroke-width="0.16">0.50</text>
<line x1="51.93" y1="269.50" x2="51.93" y2="270.60" stroke="#808080" stroke-width="0.7"/>
<line x1="68.77" y1="269.50" x2="68.77" y2="270.60" stroke="#808080" stroke-width="0.7"/>
<line x1="85.63" y1="269.50" x2="85.63" y2="270.60" stroke="#808080" stroke-width="0.7"/>
<line x1="102.48" y1="269.50" x2="102.48" y2="270.60" stroke="#808080" stroke-width="0.7"/>
<line x1="119.33" y1="269.50" x2="119.33" y2="270.60" stroke="#808080" stroke-width="0.7"/>
<line x1="136.18" y1="269.50" x2="136.18" y2="270.60" stroke="#808080" stroke-width="0.7"/>
<line x1="34.40" y1="159.30" x2="32.60" y2="159.30" stroke="#808080" stroke-width="0.8"/>
<text x="31.50" y="161.40" font-size="5.2" fill="#484848" text-anchor="end" stroke="#484848" stroke-width="0.16">0.47</text>
<line x1="34.40" y1="187.00" x2="32.60" y2="187.00" stroke="#808080" stroke-width="0.8"/>
<text x="31.50" y="189.10" font-size="5.2" fill="#484848" text-anchor="end" stroke="#484848" stroke-width="0.16">0.46</text>
<line x1="34.40" y1="214.70" x2="32.60" y2="214.70" stroke="#808080" stroke-width="0.8"/>
<text x="31.50" y="216.80" font-size="5.2" fill="#484848" text-anchor="end" stroke="#484848" stroke-width="0.16">0.45</text>
<line x1="34.40" y1="242.40" x2="32.60" y2="242.40" stroke="#808080" stroke-width="0.8"/>
<text x="31.50" y="244.50" font-size="5.2" fill="#484848" text-anchor="end" stroke="#484848" stroke-width="0.16">0.44</text>
<line x1="34.40" y1="270.10" x2="32.60" y2="270.10" stroke="#808080" stroke-width="0.8"/>
<text x="31.50" y="272.20" font-size="5.2" fill="#484848" text-anchor="end" stroke="#484848" stroke-width="0.16">0.43</text>
<line x1="34.40" y1="173.15" x2="33.30" y2="173.15" stroke="#808080" stroke-width="0.7"/>
<line x1="34.40" y1="200.85" x2="33.30" y2="200.85" stroke="#808080" stroke-width="0.7"/>
<line x1="34.40" y1="228.55" x2="33.30" y2="228.55" stroke="#808080" stroke-width="0.7"/>
<line x1="34.40" y1="256.25" x2="33.30" y2="256.25" stroke="#808080" stroke-width="0.7"/>
<text x="28.60" y="151.30" font-size="9.1" fill="#151515" text-anchor="start" stroke="#151515" stroke-width="0.1">E.CI</text>
<text x="44.10" y="165.50" font-size="5.92" fill="#3c3cf2" text-anchor="start" stroke="#3c3cf2" stroke-width="0.2">Y= -0.04002X+0.46704</text>
<text x="43.70" y="180.80" font-size="5.92" fill="#3c3cf2" text-anchor="start" stroke="#3c3cf2" stroke-width="0.2">R</text>
<text x="48.00" y="176.70" font-size="5.3" fill="#3c3cf2" text-anchor="start" stroke="#3c3cf2" stroke-width="0.2">2</text>
<text x="50.70" y="180.80" font-size="5.92" fill="#3c3cf2" text-anchor="start" stroke="#3c3cf2" stroke-width="0.2">= 0.4104</text>
<line x1="48.40" y1="210.40" x2="145.00" y2="222.90" stroke="#f25555" stroke-width="0.95"/>
<circle cx="79.0" cy="198.4" r="1.65" fill="#f21f26"/>
<circle cx="79.0" cy="200.8" r="1.65" fill="#f21f26"/>
<circle cx="83.0" cy="198.7" r="1.65" fill="#20c6cf"/>
<circle cx="83.7" cy="200.8" r="1.65" fill="#f21f26"/>
<circle cx="84.6" cy="198.6" r="1.65" fill="#f21f26"/>
<circle cx="88.0" cy="200.8" r="1.65" fill="#f21f26"/>
<circle cx="87.0" cy="207.3" r="1.65" fill="#189a52"/>
<circle cx="65.8" cy="213.9" r="1.65" fill="#d4940a"/>
<circle cx="67.2" cy="215.8" r="1.65" fill="#a953e4"/>
<circle cx="68.6" cy="218.2" r="1.65" fill="#d4940a"/>
<circle cx="77.8" cy="213.9" r="1.65" fill="#1b5ee0"/>
<circle cx="76.4" cy="218.2" r="1.65" fill="#20c6cf"/>
<circle cx="80.2" cy="218.2" r="1.65" fill="#20c6cf"/>
<circle cx="80.2" cy="224.2" r="1.65" fill="#20c6cf"/>
<circle cx="48.4" cy="228.8" r="1.65" fill="#189a52"/>
<circle cx="50.2" cy="228.8" r="1.65" fill="#d4940a"/>
<circle cx="54.1" cy="226.4" r="1.65" fill="#d4940a"/>
<circle cx="69.6" cy="226.4" r="1.65" fill="#20c6cf"/>
<circle cx="71.4" cy="228.8" r="1.65" fill="#189a52"/>
<circle cx="80.2" cy="228.8" r="1.65" fill="#f21f26"/>
<circle cx="73.8" cy="233.0" r="1.65" fill="#d4940a"/>
<circle cx="80.2" cy="233.3" r="1.65" fill="#a953e4"/>
<circle cx="82.7" cy="233.3" r="1.65" fill="#a953e4"/>
<circle cx="84.4" cy="233.3" r="1.65" fill="#a953e4"/>
<circle cx="83.0" cy="235.1" r="1.65" fill="#a953e4"/>
<circle cx="70.0" cy="237.2" r="1.65" fill="#189a52"/>
<circle cx="66.1" cy="239.4" r="1.65" fill="#189a52"/>
<circle cx="67.2" cy="243.6" r="1.65" fill="#a953e4"/>
<circle cx="94.3" cy="226.6" r="1.65" fill="#1b5ee0"/>
<circle cx="98.9" cy="196.6" r="1.65" fill="#1b5ee0"/>
<circle cx="88.1" cy="201.0" r="1.65" fill="#f21f26"/>
<circle cx="92.3" cy="201.0" r="1.65" fill="#1b5ee0"/>
<circle cx="92.3" cy="203.1" r="1.65" fill="#1b5ee0"/>
<circle cx="96.5" cy="201.0" r="1.65" fill="#1b5ee0"/>
<circle cx="97.1" cy="203.1" r="1.65" fill="#1b5ee0"/>
<circle cx="95.1" cy="202.9" r="1.65" fill="#f21f26"/>
<circle cx="103.1" cy="202.9" r="1.65" fill="#f21f26"/>
<circle cx="104.6" cy="202.9" r="1.65" fill="#f21f26"/>
<circle cx="109.7" cy="202.9" r="1.65" fill="#f21f26"/>
<circle cx="89.9" cy="205.3" r="1.65" fill="#1b5ee0"/>
<circle cx="91.1" cy="205.3" r="1.65" fill="#f21f26"/>
<circle cx="94.7" cy="205.3" r="1.65" fill="#20c6cf"/>
<circle cx="97.7" cy="205.3" r="1.65" fill="#20c6cf"/>
<circle cx="101.9" cy="205.3" r="1.65" fill="#189a52"/>
<circle cx="106.7" cy="205.3" r="1.65" fill="#20c6cf"/>
<circle cx="108.5" cy="205.3" r="1.65" fill="#189a52"/>
<circle cx="90.5" cy="207.9" r="1.65" fill="#1b5ee0"/>
<circle cx="94.1" cy="207.3" r="1.65" fill="#20c6cf"/>
<circle cx="97.1" cy="208.5" r="1.65" fill="#189a52"/>
<circle cx="99.5" cy="207.3" r="1.65" fill="#20c6cf"/>
<circle cx="104.3" cy="207.3" r="1.65" fill="#f21f26"/>
<circle cx="108.2" cy="207.3" r="1.65" fill="#f21f26"/>
<circle cx="89.3" cy="209.1" r="1.65" fill="#1b5ee0"/>
<circle cx="91.7" cy="209.1" r="1.65" fill="#1b5ee0"/>
<circle cx="93.5" cy="210.9" r="1.65" fill="#20c6cf"/>
<circle cx="101.9" cy="209.1" r="1.65" fill="#189a52"/>
<circle cx="113.2" cy="209.1" r="1.65" fill="#f21f26"/>
<circle cx="110.6" cy="211.5" r="1.65" fill="#20c6cf"/>
<circle cx="87.9" cy="213.3" r="1.65" fill="#20c6cf"/>
<circle cx="90.5" cy="213.3" r="1.65" fill="#20c6cf"/>
<circle cx="93.5" cy="213.3" r="1.65" fill="#f21f26"/>
<circle cx="100.1" cy="213.3" r="1.65" fill="#20c6cf"/>
<circle cx="106.7" cy="215.7" r="1.65" fill="#189a52"/>
<circle cx="108.5" cy="215.7" r="1.65" fill="#20c6cf"/>
<circle cx="109.9" cy="215.7" r="1.65" fill="#f21f26"/>
<circle cx="117.4" cy="217.8" r="1.65" fill="#189a52"/>
<circle cx="109.7" cy="220.5" r="1.65" fill="#f21f26"/>
<circle cx="123.4" cy="222.0" r="1.65" fill="#f21f26"/>
<circle cx="97.7" cy="224.4" r="1.65" fill="#1b5ee0"/>
<circle cx="95.3" cy="226.5" r="1.65" fill="#1b5ee0"/>
<circle cx="97.7" cy="226.5" r="1.65" fill="#1b5ee0"/>
<circle cx="101.3" cy="224.7" r="1.65" fill="#f21f26"/>
<circle cx="110.6" cy="228.5" r="1.65" fill="#1b5ee0"/>
<circle cx="117.4" cy="226.1" r="1.65" fill="#f21f26"/>
<circle cx="119.8" cy="226.1" r="1.65" fill="#f21f26"/>
<circle cx="122.2" cy="226.1" r="1.65" fill="#f21f26"/>
<circle cx="124.6" cy="226.1" r="1.65" fill="#f21f26"/>
<circle cx="127.0" cy="226.1" r="1.65" fill="#f21f26"/>
<circle cx="118.0" cy="228.5" r="1.65" fill="#189a52"/>
<circle cx="120.4" cy="228.5" r="1.65" fill="#f21f26"/>
<circle cx="122.8" cy="228.5" r="1.65" fill="#f21f26"/>
<circle cx="125.2" cy="228.5" r="1.65" fill="#f21f26"/>
<circle cx="127.0" cy="228.5" r="1.65" fill="#f21f26"/>
<circle cx="120.4" cy="230.6" r="1.65" fill="#f21f26"/>
<circle cx="122.8" cy="230.6" r="1.65" fill="#f21f26"/>
<circle cx="125.2" cy="230.6" r="1.65" fill="#f21f26"/>
<circle cx="102.7" cy="230.6" r="1.65" fill="#f21f26"/>
<circle cx="114.4" cy="232.8" r="1.65" fill="#f21f26"/>
<circle cx="113.2" cy="235.2" r="1.65" fill="#f21f26"/>
<line x1="167.50" y1="159.00" x2="167.50" y2="269.60" stroke="#808080" stroke-width="1.2"/>
<line x1="166.90" y1="269.60" x2="277.10" y2="269.60" stroke="#808080" stroke-width="1.2"/>
<line x1="182.90" y1="269.60" x2="182.90" y2="271.40" stroke="#808080" stroke-width="0.8"/>
<text x="182.90" y="276.60" font-size="5.2" fill="#484848" text-anchor="middle" stroke="#484848" stroke-width="0.16">0.4</text>
<line x1="214.30" y1="269.60" x2="214.30" y2="271.40" stroke="#808080" stroke-width="0.8"/>
<text x="214.30" y="276.60" font-size="5.2" fill="#484848" text-anchor="middle" stroke="#484848" stroke-width="0.16">0.5</text>
<line x1="245.70" y1="269.60" x2="245.70" y2="271.40" stroke="#808080" stroke-width="0.8"/>
<text x="245.70" y="276.60" font-size="5.2" fill="#484848" text-anchor="middle" stroke="#484848" stroke-width="0.16">0.6</text>
<line x1="277.10" y1="269.60" x2="277.10" y2="271.40" stroke="#808080" stroke-width="0.8"/>
<text x="277.10" y="276.60" font-size="5.2" fill="#484848" text-anchor="middle" stroke="#484848" stroke-width="0.16">0.7</text>
<line x1="198.60" y1="269.60" x2="198.60" y2="270.70" stroke="#808080" stroke-width="0.7"/>
<line x1="230.00" y1="269.60" x2="230.00" y2="270.70" stroke="#808080" stroke-width="0.7"/>
<line x1="261.40" y1="269.60" x2="261.40" y2="270.70" stroke="#808080" stroke-width="0.7"/>
<line x1="167.50" y1="159.20" x2="165.70" y2="159.20" stroke="#808080" stroke-width="0.8"/>
<text x="166.30" y="161.30" font-size="5.2" fill="#484848" text-anchor="end" stroke="#484848" stroke-width="0.16">0.50</text>
<line x1="167.50" y1="173.90" x2="165.70" y2="173.90" stroke="#808080" stroke-width="0.8"/>
<text x="166.30" y="176.00" font-size="5.2" fill="#484848" text-anchor="end" stroke="#484848" stroke-width="0.16">0.48</text>
<line x1="167.50" y1="188.60" x2="165.70" y2="188.60" stroke="#808080" stroke-width="0.8"/>
<text x="166.30" y="190.70" font-size="5.2" fill="#484848" text-anchor="end" stroke="#484848" stroke-width="0.16">0.46</text>
<line x1="167.50" y1="203.30" x2="165.70" y2="203.30" stroke="#808080" stroke-width="0.8"/>
<text x="166.30" y="205.40" font-size="5.2" fill="#484848" text-anchor="end" stroke="#484848" stroke-width="0.16">0.44</text>
<line x1="167.50" y1="218.00" x2="165.70" y2="218.00" stroke="#808080" stroke-width="0.8"/>
<text x="166.30" y="220.10" font-size="5.2" fill="#484848" text-anchor="end" stroke="#484848" stroke-width="0.16">0.42</text>
<line x1="167.50" y1="232.70" x2="165.70" y2="232.70" stroke="#808080" stroke-width="0.8"/>
<text x="166.30" y="234.80" font-size="5.2" fill="#484848" text-anchor="end" stroke="#484848" stroke-width="0.16">0.40</text>
<line x1="167.50" y1="247.40" x2="165.70" y2="247.40" stroke="#808080" stroke-width="0.8"/>
<text x="166.30" y="249.50" font-size="5.2" fill="#484848" text-anchor="end" stroke="#484848" stroke-width="0.16">0.38</text>
<line x1="167.50" y1="262.10" x2="165.70" y2="262.10" stroke="#808080" stroke-width="0.8"/>
<text x="166.30" y="264.20" font-size="5.2" fill="#484848" text-anchor="end" stroke="#484848" stroke-width="0.16">0.36</text>
<line x1="167.50" y1="166.55" x2="166.40" y2="166.55" stroke="#808080" stroke-width="0.7"/>
<line x1="167.50" y1="181.25" x2="166.40" y2="181.25" stroke="#808080" stroke-width="0.7"/>
<line x1="167.50" y1="195.95" x2="166.40" y2="195.95" stroke="#808080" stroke-width="0.7"/>
<line x1="167.50" y1="210.65" x2="166.40" y2="210.65" stroke="#808080" stroke-width="0.7"/>
<line x1="167.50" y1="225.35" x2="166.40" y2="225.35" stroke="#808080" stroke-width="0.7"/>
<line x1="167.50" y1="240.05" x2="166.40" y2="240.05" stroke="#808080" stroke-width="0.7"/>
<line x1="167.50" y1="254.75" x2="166.40" y2="254.75" stroke="#808080" stroke-width="0.7"/>
<text x="160.90" y="151.30" font-size="9.1" fill="#151515" text-anchor="start" stroke="#151515" stroke-width="0.1">F.6K2</text>
<text x="178.20" y="165.80" font-size="5.92" fill="#3c3cf2" text-anchor="start" stroke="#3c3cf2" stroke-width="0.2">Y= 0.06679X+0.37458</text>
<text x="177.80" y="181.30" font-size="5.92" fill="#3c3cf2" text-anchor="start" stroke="#3c3cf2" stroke-width="0.2">R</text>
<text x="182.10" y="177.20" font-size="5.3" fill="#3c3cf2" text-anchor="start" stroke="#3c3cf2" stroke-width="0.2">2</text>
<text x="184.80" y="181.30" font-size="5.92" fill="#3c3cf2" text-anchor="start" stroke="#3c3cf2" stroke-width="0.2">= 0.03606</text>
<line x1="167.70" y1="234.20" x2="259.50" y2="219.90" stroke="#f25555" stroke-width="0.95"/>
<circle cx="211.4" cy="193.7" r="1.65" fill="#20c6cf"/>
<circle cx="205.4" cy="201.0" r="1.65" fill="#20c6cf"/>
<circle cx="211.4" cy="201.0" r="1.65" fill="#20c6cf"/>
<circle cx="235.4" cy="201.0" r="1.65" fill="#20c6cf"/>
<circle cx="241.4" cy="201.0" r="1.65" fill="#f21f26"/>
<circle cx="199.5" cy="208.1" r="1.65" fill="#1b5ee0"/>
<circle cx="205.4" cy="208.1" r="1.65" fill="#20c6cf"/>
<circle cx="217.4" cy="208.1" r="1.65" fill="#20c6cf"/>
<circle cx="223.3" cy="208.1" r="1.65" fill="#189a52"/>
<circle cx="229.3" cy="208.1" r="1.65" fill="#f21f26"/>
<circle cx="211.4" cy="215.0" r="1.65" fill="#1b5ee0"/>
<circle cx="217.4" cy="215.0" r="1.65" fill="#f21f26"/>
<circle cx="223.3" cy="215.0" r="1.65" fill="#189a52"/>
<circle cx="229.3" cy="215.0" r="1.65" fill="#1b5ee0"/>
<circle cx="235.4" cy="215.0" r="1.65" fill="#189a52"/>
<circle cx="241.4" cy="215.0" r="1.65" fill="#189a52"/>
<circle cx="170.1" cy="221.9" r="1.65" fill="#a953e4"/>
<circle cx="187.4" cy="221.9" r="1.65" fill="#d4940a"/>
<circle cx="199.5" cy="221.9" r="1.65" fill="#189a52"/>
<circle cx="205.4" cy="221.9" r="1.65" fill="#189a52"/>
<circle cx="211.4" cy="221.9" r="1.65" fill="#f21f26"/>
<circle cx="217.4" cy="221.9" r="1.65" fill="#20c6cf"/>
<circle cx="223.3" cy="221.9" r="1.65" fill="#f21f26"/>
<circle cx="229.3" cy="221.9" r="1.65" fill="#f21f26"/>
<circle cx="235.4" cy="221.9" r="1.65" fill="#f21f26"/>
<circle cx="241.4" cy="221.9" r="1.65" fill="#20c6cf"/>
<circle cx="205.4" cy="228.6" r="1.65" fill="#20c6cf"/>
<circle cx="217.4" cy="228.6" r="1.65" fill="#f21f26"/>
<circle cx="223.3" cy="228.6" r="1.65" fill="#20c6cf"/>
<circle cx="229.3" cy="228.6" r="1.65" fill="#20c6cf"/>
<circle cx="235.4" cy="228.6" r="1.65" fill="#1b5ee0"/>
<circle cx="247.2" cy="228.6" r="1.65" fill="#f21f26"/>
<circle cx="181.7" cy="235.5" r="1.65" fill="#a953e4"/>
<circle cx="199.5" cy="235.5" r="1.65" fill="#a953e4"/>
<circle cx="217.4" cy="235.5" r="1.65" fill="#f21f26"/>
<circle cx="247.2" cy="235.5" r="1.65" fill="#20c6cf"/>
<circle cx="193.5" cy="242.6" r="1.65" fill="#189a52"/>
<circle cx="199.5" cy="242.6" r="1.65" fill="#f21f26"/>
<circle cx="205.4" cy="242.6" r="1.65" fill="#a953e4"/>
<circle cx="211.4" cy="242.6" r="1.65" fill="#1b5ee0"/>
<circle cx="217.4" cy="242.6" r="1.65" fill="#f21f26"/>
<circle cx="223.3" cy="242.6" r="1.65" fill="#f21f26"/>
<circle cx="229.3" cy="242.6" r="1.65" fill="#f21f26"/>
<circle cx="175.5" cy="249.5" r="1.65" fill="#1b5ee0"/>
<circle cx="181.7" cy="249.5" r="1.65" fill="#d4940a"/>
<circle cx="205.4" cy="249.5" r="1.65" fill="#a953e4"/>
<circle cx="217.4" cy="249.5" r="1.65" fill="#f21f26"/>
<circle cx="259.0" cy="249.5" r="1.65" fill="#f21f26"/>
<line x1="299.20" y1="158.80" x2="299.20" y2="269.50" stroke="#808080" stroke-width="1.2"/>
<line x1="298.60" y1="269.50" x2="409.30" y2="269.50" stroke="#808080" stroke-width="1.2"/>
<line x1="308.20" y1="269.50" x2="308.20" y2="271.30" stroke="#808080" stroke-width="0.8"/>
<text x="308.20" y="276.50" font-size="5.2" fill="#484848" text-anchor="middle" stroke="#484848" stroke-width="0.16">0.35</text>
<line x1="328.42" y1="269.50" x2="328.42" y2="271.30" stroke="#808080" stroke-width="0.8"/>
<text x="328.42" y="276.50" font-size="5.2" fill="#484848" text-anchor="middle" stroke="#484848" stroke-width="0.16">0.40</text>
<line x1="348.64" y1="269.50" x2="348.64" y2="271.30" stroke="#808080" stroke-width="0.8"/>
<text x="348.64" y="276.50" font-size="5.2" fill="#484848" text-anchor="middle" stroke="#484848" stroke-width="0.16">0.45</text>
<line x1="368.86" y1="269.50" x2="368.86" y2="271.30" stroke="#808080" stroke-width="0.8"/>
<text x="368.86" y="276.50" font-size="5.2" fill="#484848" text-anchor="middle" stroke="#484848" stroke-width="0.16">0.50</text>
<line x1="389.08" y1="269.50" x2="389.08" y2="271.30" stroke="#808080" stroke-width="0.8"/>
<text x="389.08" y="276.50" font-size="5.2" fill="#484848" text-anchor="middle" stroke="#484848" stroke-width="0.16">0.55</text>
<line x1="409.30" y1="269.50" x2="409.30" y2="271.30" stroke="#808080" stroke-width="0.8"/>
<text x="409.30" y="276.50" font-size="5.2" fill="#484848" text-anchor="middle" stroke="#484848" stroke-width="0.16">0.60</text>
<line x1="318.31" y1="269.50" x2="318.31" y2="270.60" stroke="#808080" stroke-width="0.7"/>
<line x1="338.53" y1="269.50" x2="338.53" y2="270.60" stroke="#808080" stroke-width="0.7"/>
<line x1="358.75" y1="269.50" x2="358.75" y2="270.60" stroke="#808080" stroke-width="0.7"/>
<line x1="378.97" y1="269.50" x2="378.97" y2="270.60" stroke="#808080" stroke-width="0.7"/>
<line x1="399.19" y1="269.50" x2="399.19" y2="270.60" stroke="#808080" stroke-width="0.7"/>
<line x1="299.20" y1="158.80" x2="297.40" y2="158.80" stroke="#808080" stroke-width="0.8"/>
<text x="296.30" y="160.90" font-size="5.2" fill="#484848" text-anchor="end" stroke="#484848" stroke-width="0.16">0.47</text>
<line x1="299.20" y1="180.94" x2="297.40" y2="180.94" stroke="#808080" stroke-width="0.8"/>
<text x="296.30" y="183.04" font-size="5.2" fill="#484848" text-anchor="end" stroke="#484848" stroke-width="0.16">0.46</text>
<line x1="299.20" y1="203.08" x2="297.40" y2="203.08" stroke="#808080" stroke-width="0.8"/>
<text x="296.30" y="205.18" font-size="5.2" fill="#484848" text-anchor="end" stroke="#484848" stroke-width="0.16">0.45</text>
<line x1="299.20" y1="225.22" x2="297.40" y2="225.22" stroke="#808080" stroke-width="0.8"/>
<text x="296.30" y="227.32" font-size="5.2" fill="#484848" text-anchor="end" stroke="#484848" stroke-width="0.16">0.44</text>
<line x1="299.20" y1="247.36" x2="297.40" y2="247.36" stroke="#808080" stroke-width="0.8"/>
<text x="296.30" y="249.46" font-size="5.2" fill="#484848" text-anchor="end" stroke="#484848" stroke-width="0.16">0.43</text>
<line x1="299.20" y1="269.50" x2="297.40" y2="269.50" stroke="#808080" stroke-width="0.8"/>
<text x="296.30" y="271.60" font-size="5.2" fill="#484848" text-anchor="end" stroke="#484848" stroke-width="0.16">0.42</text>
<line x1="299.20" y1="169.87" x2="298.10" y2="169.87" stroke="#808080" stroke-width="0.7"/>
<line x1="299.20" y1="192.01" x2="298.10" y2="192.01" stroke="#808080" stroke-width="0.7"/>
<line x1="299.20" y1="214.15" x2="298.10" y2="214.15" stroke="#808080" stroke-width="0.7"/>
<line x1="299.20" y1="236.29" x2="298.10" y2="236.29" stroke="#808080" stroke-width="0.7"/>
<line x1="299.20" y1="258.43" x2="298.10" y2="258.43" stroke="#808080" stroke-width="0.7"/>
<text x="292.60" y="151.30" font-size="9.1" fill="#151515" text-anchor="start" stroke="#151515" stroke-width="0.1">G.VPg</text>
<text x="308.60" y="162.20" font-size="5.92" fill="#3c3cf2" text-anchor="start" stroke="#3c3cf2" stroke-width="0.2">Y= -0.01415X+0.45076</text>
<text x="308.20" y="177.70" font-size="5.92" fill="#3c3cf2" text-anchor="start" stroke="#3c3cf2" stroke-width="0.2">R</text>
<text x="312.50" y="173.60" font-size="5.3" fill="#3c3cf2" text-anchor="start" stroke="#3c3cf2" stroke-width="0.2">2</text>
<text x="315.20" y="177.70" font-size="5.92" fill="#3c3cf2" text-anchor="start" stroke="#3c3cf2" stroke-width="0.2">= 0.00715</text>
<line x1="311.00" y1="212.80" x2="387.00" y2="218.80" stroke="#f25555" stroke-width="0.95"/>
<circle cx="341.2" cy="185.2" r="1.65" fill="#a953e4"/>
<circle cx="358.3" cy="185.2" r="1.65" fill="#f21f26"/>
<circle cx="341.2" cy="191.0" r="1.65" fill="#a953e4"/>
<circle cx="350.1" cy="191.0" r="1.65" fill="#a953e4"/>
<circle cx="322.1" cy="196.7" r="1.65" fill="#1b5ee0"/>
<circle cx="341.2" cy="196.7" r="1.65" fill="#f21f26"/>
<circle cx="324.3" cy="202.3" r="1.65" fill="#d4940a"/>
<circle cx="332.7" cy="202.3" r="1.65" fill="#189a52"/>
<circle cx="339.1" cy="202.3" r="1.65" fill="#189a52"/>
<circle cx="328.7" cy="208.2" r="1.65" fill="#d4940a"/>
<circle cx="337.0" cy="208.2" r="1.65" fill="#f21f26"/>
<circle cx="339.1" cy="213.6" r="1.65" fill="#d4940a"/>
<circle cx="343.5" cy="213.6" r="1.65" fill="#d4940a"/>
<circle cx="341.2" cy="219.7" r="1.65" fill="#189a52"/>
<circle cx="311.3" cy="236.5" r="1.65" fill="#189a52"/>
<circle cx="324.3" cy="236.5" r="1.65" fill="#d4940a"/>
<circle cx="326.4" cy="242.6" r="1.65" fill="#a953e4"/>
<circle cx="328.7" cy="242.6" r="1.65" fill="#a953e4"/>
<circle cx="331.0" cy="242.6" r="1.65" fill="#a953e4"/>
<circle cx="320.0" cy="248.3" r="1.65" fill="#a953e4"/>
<circle cx="317.9" cy="254.3" r="1.65" fill="#d4940a"/>
<circle cx="317.9" cy="259.1" r="1.65" fill="#189a52"/>
<circle cx="354.2" cy="196.8" r="1.65" fill="#f21f26"/>
<circle cx="356.4" cy="196.8" r="1.65" fill="#f21f26"/>
<circle cx="358.3" cy="196.8" r="1.65" fill="#f21f26"/>
<circle cx="360.7" cy="196.8" r="1.65" fill="#1b5ee0"/>
<circle cx="379.7" cy="196.8" r="1.65" fill="#1b5ee0"/>
<circle cx="352.0" cy="202.3" r="1.65" fill="#f21f26"/>
<circle cx="354.2" cy="202.3" r="1.65" fill="#f21f26"/>
<circle cx="356.4" cy="202.3" r="1.65" fill="#f21f26"/>
<circle cx="358.8" cy="202.3" r="1.65" fill="#f21f26"/>
<circle cx="361.6" cy="202.3" r="1.65" fill="#f21f26"/>
<circle cx="363.1" cy="202.3" r="1.65" fill="#f21f26"/>
<circle cx="375.5" cy="202.3" r="1.65" fill="#1b5ee0"/>
<circle cx="377.9" cy="202.3" r="1.65" fill="#189a52"/>
<circle cx="380.1" cy="202.3" r="1.65" fill="#189a52"/>
<circle cx="349.6" cy="208.2" r="1.65" fill="#f21f26"/>
<circle cx="352.0" cy="208.2" r="1.65" fill="#f21f26"/>
<circle cx="354.2" cy="208.2" r="1.65" fill="#f21f26"/>
<circle cx="356.4" cy="208.2" r="1.65" fill="#f21f26"/>
<circle cx="366.8" cy="208.2" r="1.65" fill="#20c6cf"/>
<circle cx="375.5" cy="208.2" r="1.65" fill="#1b5ee0"/>
<circle cx="377.9" cy="208.2" r="1.65" fill="#1b5ee0"/>
<circle cx="352.0" cy="213.8" r="1.65" fill="#f21f26"/>
<circle cx="354.2" cy="213.8" r="1.65" fill="#f21f26"/>
<circle cx="356.4" cy="213.8" r="1.65" fill="#f21f26"/>
<circle cx="358.8" cy="213.8" r="1.65" fill="#f21f26"/>
<circle cx="361.2" cy="213.8" r="1.65" fill="#f21f26"/>
<circle cx="371.2" cy="213.8" r="1.65" fill="#1b5ee0"/>
<circle cx="373.6" cy="213.8" r="1.65" fill="#1b5ee0"/>
<circle cx="376.0" cy="213.8" r="1.65" fill="#1b5ee0"/>
<circle cx="377.9" cy="213.8" r="1.65" fill="#1b5ee0"/>
<circle cx="386.0" cy="213.8" r="1.65" fill="#f21f26"/>
<circle cx="355.7" cy="219.3" r="1.65" fill="#f21f26"/>
<circle cx="358.3" cy="219.3" r="1.65" fill="#f21f26"/>
<circle cx="369.0" cy="219.3" r="1.65" fill="#20c6cf"/>
<circle cx="373.1" cy="219.3" r="1.65" fill="#189a52"/>
<circle cx="375.5" cy="219.3" r="1.65" fill="#20c6cf"/>
<circle cx="377.9" cy="219.3" r="1.65" fill="#20c6cf"/>
<circle cx="383.8" cy="219.3" r="1.65" fill="#1b5ee0"/>
<circle cx="386.5" cy="219.3" r="1.65" fill="#f21f26"/>
<circle cx="353.9" cy="225.2" r="1.65" fill="#f21f26"/>
<circle cx="371.2" cy="225.2" r="1.65" fill="#f21f26"/>
<circle cx="373.6" cy="225.2" r="1.65" fill="#f21f26"/>
<circle cx="375.5" cy="225.2" r="1.65" fill="#1b5ee0"/>
<circle cx="380.1" cy="225.2" r="1.65" fill="#20c6cf"/>
<circle cx="381.9" cy="225.2" r="1.65" fill="#1b5ee0"/>
<circle cx="384.1" cy="225.2" r="1.65" fill="#189a52"/>
<circle cx="362.5" cy="230.9" r="1.65" fill="#f21f26"/>
<circle cx="364.9" cy="230.9" r="1.65" fill="#20c6cf"/>
<circle cx="367.1" cy="230.9" r="1.65" fill="#20c6cf"/>
<circle cx="371.2" cy="230.9" r="1.65" fill="#f21f26"/>
<circle cx="373.6" cy="230.9" r="1.65" fill="#f21f26"/>
<circle cx="376.0" cy="230.9" r="1.65" fill="#189a52"/>
<circle cx="377.9" cy="230.9" r="1.65" fill="#1b5ee0"/>
<circle cx="364.9" cy="236.5" r="1.65" fill="#20c6cf"/>
<circle cx="369.0" cy="236.5" r="1.65" fill="#f21f26"/>
<circle cx="371.2" cy="236.5" r="1.65" fill="#f21f26"/>
<circle cx="373.6" cy="236.5" r="1.65" fill="#1b5ee0"/>
<circle cx="375.5" cy="236.5" r="1.65" fill="#1b5ee0"/>
<circle cx="380.1" cy="236.5" r="1.65" fill="#f21f26"/>
<circle cx="375.5" cy="242.4" r="1.65" fill="#20c6cf"/>
<circle cx="380.1" cy="242.4" r="1.65" fill="#f21f26"/>
<circle cx="373.1" cy="248.3" r="1.65" fill="#f21f26"/>
<line x1="432.00" y1="158.90" x2="432.00" y2="269.50" stroke="#808080" stroke-width="1.2"/>
<line x1="431.40" y1="269.50" x2="541.80" y2="269.50" stroke="#808080" stroke-width="1.2"/>
<line x1="432.30" y1="269.50" x2="432.30" y2="271.30" stroke="#808080" stroke-width="0.8"/>
<text x="432.30" y="276.50" font-size="5.2" fill="#484848" text-anchor="middle" stroke="#484848" stroke-width="0.16">0.30</text>
<line x1="454.20" y1="269.50" x2="454.20" y2="271.30" stroke="#808080" stroke-width="0.8"/>
<text x="454.20" y="276.50" font-size="5.2" fill="#484848" text-anchor="middle" stroke="#484848" stroke-width="0.16">0.35</text>
<line x1="476.10" y1="269.50" x2="476.10" y2="271.30" stroke="#808080" stroke-width="0.8"/>
<text x="476.10" y="276.50" font-size="5.2" fill="#484848" text-anchor="middle" stroke="#484848" stroke-width="0.16">0.40</text>
<line x1="498.00" y1="269.50" x2="498.00" y2="271.30" stroke="#808080" stroke-width="0.8"/>
<text x="498.00" y="276.50" font-size="5.2" fill="#484848" text-anchor="middle" stroke="#484848" stroke-width="0.16">0.45</text>
<line x1="519.90" y1="269.50" x2="519.90" y2="271.30" stroke="#808080" stroke-width="0.8"/>
<text x="519.90" y="276.50" font-size="5.2" fill="#484848" text-anchor="middle" stroke="#484848" stroke-width="0.16">0.50</text>
<line x1="541.80" y1="269.50" x2="541.80" y2="271.30" stroke="#808080" stroke-width="0.8"/>
<text x="541.80" y="276.50" font-size="5.2" fill="#484848" text-anchor="middle" stroke="#484848" stroke-width="0.16">0.55</text>
<line x1="443.25" y1="269.50" x2="443.25" y2="270.60" stroke="#808080" stroke-width="0.7"/>
<line x1="465.15" y1="269.50" x2="465.15" y2="270.60" stroke="#808080" stroke-width="0.7"/>
<line x1="487.05" y1="269.50" x2="487.05" y2="270.60" stroke="#808080" stroke-width="0.7"/>
<line x1="508.95" y1="269.50" x2="508.95" y2="270.60" stroke="#808080" stroke-width="0.7"/>
<line x1="530.85" y1="269.50" x2="530.85" y2="270.60" stroke="#808080" stroke-width="0.7"/>
<line x1="432.00" y1="158.90" x2="430.20" y2="158.90" stroke="#808080" stroke-width="0.8"/>
<text x="429.10" y="161.00" font-size="5.2" fill="#484848" text-anchor="end" stroke="#484848" stroke-width="0.16">0.45</text>
<line x1="432.00" y1="181.02" x2="430.20" y2="181.02" stroke="#808080" stroke-width="0.8"/>
<text x="429.10" y="183.12" font-size="5.2" fill="#484848" text-anchor="end" stroke="#484848" stroke-width="0.16">0.44</text>
<line x1="432.00" y1="203.14" x2="430.20" y2="203.14" stroke="#808080" stroke-width="0.8"/>
<text x="429.10" y="205.24" font-size="5.2" fill="#484848" text-anchor="end" stroke="#484848" stroke-width="0.16">0.43</text>
<line x1="432.00" y1="225.26" x2="430.20" y2="225.26" stroke="#808080" stroke-width="0.8"/>
<text x="429.10" y="227.36" font-size="5.2" fill="#484848" text-anchor="end" stroke="#484848" stroke-width="0.16">0.42</text>
<line x1="432.00" y1="247.38" x2="430.20" y2="247.38" stroke="#808080" stroke-width="0.8"/>
<text x="429.10" y="249.48" font-size="5.2" fill="#484848" text-anchor="end" stroke="#484848" stroke-width="0.16">0.41</text>
<line x1="432.00" y1="269.50" x2="430.20" y2="269.50" stroke="#808080" stroke-width="0.8"/>
<text x="429.10" y="271.60" font-size="5.2" fill="#484848" text-anchor="end" stroke="#484848" stroke-width="0.16">0.40</text>
<line x1="432.00" y1="169.96" x2="430.90" y2="169.96" stroke="#808080" stroke-width="0.7"/>
<line x1="432.00" y1="192.08" x2="430.90" y2="192.08" stroke="#808080" stroke-width="0.7"/>
<line x1="432.00" y1="214.20" x2="430.90" y2="214.20" stroke="#808080" stroke-width="0.7"/>
<line x1="432.00" y1="236.32" x2="430.90" y2="236.32" stroke="#808080" stroke-width="0.7"/>
<line x1="432.00" y1="258.44" x2="430.90" y2="258.44" stroke="#808080" stroke-width="0.7"/>
<text x="425.50" y="151.30" font-size="9.1" fill="#151515" text-anchor="start" stroke="#151515" stroke-width="0.1">H.NIa</text>
<text x="444.50" y="165.80" font-size="5.92" fill="#3c3cf2" text-anchor="start" stroke="#3c3cf2" stroke-width="0.2">Y= 0.00968X+0.42055</text>
<text x="444.10" y="181.30" font-size="5.92" fill="#3c3cf2" text-anchor="start" stroke="#3c3cf2" stroke-width="0.2">R</text>
<text x="448.40" y="177.20" font-size="5.3" fill="#3c3cf2" text-anchor="start" stroke="#3c3cf2" stroke-width="0.2">2</text>
<text x="451.10" y="181.30" font-size="5.92" fill="#3c3cf2" text-anchor="start" stroke="#3c3cf2" stroke-width="0.2">= 0.00542</text>
<line x1="468.50" y1="216.20" x2="541.90" y2="212.60" stroke="#f25555" stroke-width="0.95"/>
<circle cx="517.5" cy="190.0" r="1.65" fill="#f21f26"/>
<circle cx="519.5" cy="190.0" r="1.65" fill="#f21f26"/>
<circle cx="513.8" cy="194.6" r="1.65" fill="#f21f26"/>
<circle cx="517.5" cy="194.6" r="1.65" fill="#20c6cf"/>
<circle cx="534.2" cy="194.6" r="1.65" fill="#1b5ee0"/>
<circle cx="513.8" cy="198.9" r="1.65" fill="#20c6cf"/>
<circle cx="492.1" cy="203.5" r="1.65" fill="#a953e4"/>
<circle cx="508.2" cy="203.5" r="1.65" fill="#189a52"/>
<circle cx="510.2" cy="203.5" r="1.65" fill="#f21f26"/>
<circle cx="530.3" cy="203.5" r="1.65" fill="#f21f26"/>
<circle cx="474.2" cy="208.2" r="1.65" fill="#d4940a"/>
<circle cx="476.2" cy="208.2" r="1.65" fill="#189a52"/>
<circle cx="488.6" cy="208.2" r="1.65" fill="#d4940a"/>
<circle cx="495.9" cy="208.2" r="1.65" fill="#20c6cf"/>
<circle cx="499.4" cy="208.2" r="1.65" fill="#a953e4"/>
<circle cx="501.4" cy="208.2" r="1.65" fill="#f21f26"/>
<circle cx="506.4" cy="208.2" r="1.65" fill="#f21f26"/>
<circle cx="508.2" cy="208.2" r="1.65" fill="#f21f26"/>
<circle cx="510.2" cy="208.2" r="1.65" fill="#189a52"/>
<circle cx="512.2" cy="208.2" r="1.65" fill="#f21f26"/>
<circle cx="514.1" cy="208.2" r="1.65" fill="#f21f26"/>
<circle cx="516.0" cy="208.2" r="1.65" fill="#1b5ee0"/>
<circle cx="526.8" cy="208.2" r="1.65" fill="#189a52"/>
<circle cx="468.5" cy="212.5" r="1.65" fill="#d4940a"/>
<circle cx="483.2" cy="212.5" r="1.65" fill="#d4940a"/>
<circle cx="497.4" cy="212.5" r="1.65" fill="#20c6cf"/>
<circle cx="504.8" cy="212.5" r="1.65" fill="#f21f26"/>
<circle cx="507.1" cy="212.5" r="1.65" fill="#f21f26"/>
<circle cx="509.1" cy="212.5" r="1.65" fill="#f21f26"/>
<circle cx="511.0" cy="212.5" r="1.65" fill="#f21f26"/>
<circle cx="512.9" cy="212.5" r="1.65" fill="#f21f26"/>
<circle cx="514.4" cy="212.5" r="1.65" fill="#f21f26"/>
<circle cx="517.2" cy="212.5" r="1.65" fill="#189a52"/>
<circle cx="519.5" cy="212.5" r="1.65" fill="#f21f26"/>
<circle cx="521.5" cy="212.5" r="1.65" fill="#f21f26"/>
<circle cx="523.4" cy="212.5" r="1.65" fill="#f21f26"/>
<circle cx="526.8" cy="212.5" r="1.65" fill="#f21f26"/>
<circle cx="483.2" cy="217.1" r="1.65" fill="#189a52"/>
<circle cx="495.9" cy="217.1" r="1.65" fill="#20c6cf"/>
<circle cx="497.9" cy="217.1" r="1.65" fill="#a953e4"/>
<circle cx="503.0" cy="217.1" r="1.65" fill="#20c6cf"/>
<circle cx="504.8" cy="217.1" r="1.65" fill="#20c6cf"/>
<circle cx="508.7" cy="217.1" r="1.65" fill="#20c6cf"/>
<circle cx="512.2" cy="217.1" r="1.65" fill="#189a52"/>
<circle cx="514.1" cy="217.1" r="1.65" fill="#189a52"/>
<circle cx="516.0" cy="217.1" r="1.65" fill="#1b5ee0"/>
<circle cx="518.0" cy="217.1" r="1.65" fill="#f21f26"/>
<circle cx="519.5" cy="217.1" r="1.65" fill="#1b5ee0"/>
<circle cx="521.5" cy="217.1" r="1.65" fill="#f21f26"/>
<circle cx="524.9" cy="217.1" r="1.65" fill="#1b5ee0"/>
<circle cx="526.8" cy="217.1" r="1.65" fill="#f21f26"/>
<circle cx="541.1" cy="217.1" r="1.65" fill="#1b5ee0"/>
<circle cx="481.3" cy="221.8" r="1.65" fill="#a953e4"/>
<circle cx="492.1" cy="221.8" r="1.65" fill="#189a52"/>
<circle cx="501.0" cy="221.8" r="1.65" fill="#a953e4"/>
<circle cx="503.0" cy="221.8" r="1.65" fill="#f21f26"/>
<circle cx="504.8" cy="221.8" r="1.65" fill="#20c6cf"/>
<circle cx="508.7" cy="221.8" r="1.65" fill="#f21f26"/>
<circle cx="513.8" cy="221.8" r="1.65" fill="#1b5ee0"/>
<circle cx="516.0" cy="221.8" r="1.65" fill="#f21f26"/>
<circle cx="518.0" cy="221.8" r="1.65" fill="#20c6cf"/>
<circle cx="521.5" cy="221.8" r="1.65" fill="#f21f26"/>
<circle cx="486.6" cy="226.4" r="1.65" fill="#20c6cf"/>
<circle cx="499.4" cy="226.4" r="1.65" fill="#a953e4"/>
<circle cx="501.4" cy="226.4" r="1.65" fill="#a953e4"/>
<circle cx="506.7" cy="226.4" r="1.65" fill="#189a52"/>
<circle cx="508.7" cy="226.4" r="1.65" fill="#20c6cf"/>
<circle cx="515.6" cy="226.4" r="1.65" fill="#1b5ee0"/>
<circle cx="519.5" cy="226.4" r="1.65" fill="#20c6cf"/>
<circle cx="515.6" cy="230.9" r="1.65" fill="#1b5ee0"/>
<circle cx="490.1" cy="235.2" r="1.65" fill="#f21f26"/>
<line x1="34.60" y1="303.00" x2="34.60" y2="413.00" stroke="#808080" stroke-width="1.2"/>
<line x1="34.00" y1="413.00" x2="144.40" y2="413.00" stroke="#808080" stroke-width="1.2"/>
<line x1="34.90" y1="413.00" x2="34.90" y2="414.80" stroke="#808080" stroke-width="0.8"/>
<text x="34.90" y="420.00" font-size="5.2" fill="#484848" text-anchor="middle" stroke="#484848" stroke-width="0.16">0.40</text>
<line x1="71.40" y1="413.00" x2="71.40" y2="414.80" stroke="#808080" stroke-width="0.8"/>
<text x="71.40" y="420.00" font-size="5.2" fill="#484848" text-anchor="middle" stroke="#484848" stroke-width="0.16">0.45</text>
<line x1="107.90" y1="413.00" x2="107.90" y2="414.80" stroke="#808080" stroke-width="0.8"/>
<text x="107.90" y="420.00" font-size="5.2" fill="#484848" text-anchor="middle" stroke="#484848" stroke-width="0.16">0.50</text>
<line x1="144.40" y1="413.00" x2="144.40" y2="414.80" stroke="#808080" stroke-width="0.8"/>
<text x="144.40" y="420.00" font-size="5.2" fill="#484848" text-anchor="middle" stroke="#484848" stroke-width="0.16">0.55</text>
<line x1="53.15" y1="413.00" x2="53.15" y2="414.10" stroke="#808080" stroke-width="0.7"/>
<line x1="89.65" y1="413.00" x2="89.65" y2="414.10" stroke="#808080" stroke-width="0.7"/>
<line x1="126.15" y1="413.00" x2="126.15" y2="414.10" stroke="#808080" stroke-width="0.7"/>
<line x1="34.60" y1="303.40" x2="32.80" y2="303.40" stroke="#808080" stroke-width="0.8"/>
<text x="31.70" y="305.50" font-size="5.2" fill="#484848" text-anchor="end" stroke="#484848" stroke-width="0.16">0.45</text>
<line x1="34.60" y1="330.80" x2="32.80" y2="330.80" stroke="#808080" stroke-width="0.8"/>
<text x="31.70" y="332.90" font-size="5.2" fill="#484848" text-anchor="end" stroke="#484848" stroke-width="0.16">0.44</text>
<line x1="34.60" y1="358.20" x2="32.80" y2="358.20" stroke="#808080" stroke-width="0.8"/>
<text x="31.70" y="360.30" font-size="5.2" fill="#484848" text-anchor="end" stroke="#484848" stroke-width="0.16">0.43</text>
<line x1="34.60" y1="385.60" x2="32.80" y2="385.60" stroke="#808080" stroke-width="0.8"/>
<text x="31.70" y="387.70" font-size="5.2" fill="#484848" text-anchor="end" stroke="#484848" stroke-width="0.16">0.42</text>
<line x1="34.60" y1="413.00" x2="32.80" y2="413.00" stroke="#808080" stroke-width="0.8"/>
<text x="31.70" y="415.10" font-size="5.2" fill="#484848" text-anchor="end" stroke="#484848" stroke-width="0.16">0.41</text>
<line x1="34.60" y1="317.10" x2="33.50" y2="317.10" stroke="#808080" stroke-width="0.7"/>
<line x1="34.60" y1="344.50" x2="33.50" y2="344.50" stroke="#808080" stroke-width="0.7"/>
<line x1="34.60" y1="371.90" x2="33.50" y2="371.90" stroke="#808080" stroke-width="0.7"/>
<line x1="34.60" y1="399.30" x2="33.50" y2="399.30" stroke="#808080" stroke-width="0.7"/>
<text x="29.50" y="296.80" font-size="9.1" fill="#151515" text-anchor="start" stroke="#151515" stroke-width="0.1">I.NIb</text>
<text x="45.00" y="307.70" font-size="5.92" fill="#3c3cf2" text-anchor="start" stroke="#3c3cf2" stroke-width="0.2">Y= 0.09848X+0.38658</text>
<text x="44.60" y="323.20" font-size="5.92" fill="#3c3cf2" text-anchor="start" stroke="#3c3cf2" stroke-width="0.2">R</text>
<text x="48.90" y="319.10" font-size="5.3" fill="#3c3cf2" text-anchor="start" stroke="#3c3cf2" stroke-width="0.2">2</text>
<text x="51.60" y="323.20" font-size="5.92" fill="#3c3cf2" text-anchor="start" stroke="#3c3cf2" stroke-width="0.2">= 0.33594</text>
<line x1="50.50" y1="363.30" x2="114.00" y2="337.80" stroke="#f25555" stroke-width="0.95"/>
<circle cx="50.4" cy="351.6" r="1.65" fill="#a953e4"/>
<circle cx="57.8" cy="351.6" r="1.65" fill="#189a52"/>
<circle cx="61.7" cy="351.6" r="1.65" fill="#a953e4"/>
<circle cx="52.0" cy="354.3" r="1.65" fill="#a953e4"/>
<circle cx="53.9" cy="354.3" r="1.65" fill="#a953e4"/>
<circle cx="50.7" cy="362.1" r="1.65" fill="#189a52"/>
<circle cx="53.3" cy="365.0" r="1.65" fill="#d4940a"/>
<circle cx="49.3" cy="367.3" r="1.65" fill="#d4940a"/>
<circle cx="64.7" cy="362.1" r="1.65" fill="#a953e4"/>
<circle cx="70.2" cy="359.4" r="1.65" fill="#1b5ee0"/>
<circle cx="72.6" cy="359.4" r="1.65" fill="#d4940a"/>
<circle cx="71.9" cy="362.1" r="1.65" fill="#d4940a"/>
<circle cx="76.5" cy="362.1" r="1.65" fill="#d4940a"/>
<circle cx="77.4" cy="356.9" r="1.65" fill="#189a52"/>
<circle cx="80.4" cy="359.4" r="1.65" fill="#f21f26"/>
<circle cx="73.2" cy="378.0" r="1.65" fill="#189a52"/>
<circle cx="80.4" cy="380.9" r="1.65" fill="#a953e4"/>
<circle cx="79.1" cy="383.5" r="1.65" fill="#a953e4"/>
<circle cx="107.4" cy="332.8" r="1.65" fill="#f21f26"/>
<circle cx="94.7" cy="335.3" r="1.65" fill="#1b5ee0"/>
<circle cx="96.6" cy="335.3" r="1.65" fill="#1b5ee0"/>
<circle cx="98.6" cy="335.3" r="1.65" fill="#1b5ee0"/>
<circle cx="100.5" cy="335.3" r="1.65" fill="#1b5ee0"/>
<circle cx="103.0" cy="335.3" r="1.65" fill="#f21f26"/>
<circle cx="105.0" cy="335.3" r="1.65" fill="#f21f26"/>
<circle cx="111.8" cy="335.3" r="1.65" fill="#1b5ee0"/>
<circle cx="98.6" cy="337.7" r="1.65" fill="#20c6cf"/>
<circle cx="101.5" cy="337.7" r="1.65" fill="#f21f26"/>
<circle cx="104.0" cy="337.7" r="1.65" fill="#f21f26"/>
<circle cx="105.9" cy="337.7" r="1.65" fill="#f21f26"/>
<circle cx="109.4" cy="337.7" r="1.65" fill="#1b5ee0"/>
<circle cx="111.3" cy="337.7" r="1.65" fill="#1b5ee0"/>
<circle cx="113.3" cy="337.7" r="1.65" fill="#1b5ee0"/>
<circle cx="114.7" cy="337.7" r="1.65" fill="#1b5ee0"/>
<circle cx="90.3" cy="340.7" r="1.65" fill="#f21f26"/>
<circle cx="92.2" cy="340.7" r="1.65" fill="#20c6cf"/>
<circle cx="94.7" cy="340.7" r="1.65" fill="#f21f26"/>
<circle cx="100.5" cy="340.7" r="1.65" fill="#f21f26"/>
<circle cx="102.5" cy="340.7" r="1.65" fill="#f21f26"/>
<circle cx="105.0" cy="340.7" r="1.65" fill="#f21f26"/>
<circle cx="106.9" cy="340.7" r="1.65" fill="#f21f26"/>
<circle cx="109.4" cy="339.7" r="1.65" fill="#1b5ee0"/>
<circle cx="86.4" cy="343.1" r="1.65" fill="#f21f26"/>
<circle cx="88.8" cy="343.1" r="1.65" fill="#20c6cf"/>
<circle cx="90.8" cy="343.1" r="1.65" fill="#20c6cf"/>
<circle cx="92.7" cy="343.1" r="1.65" fill="#20c6cf"/>
<circle cx="94.7" cy="343.1" r="1.65" fill="#20c6cf"/>
<circle cx="97.1" cy="343.1" r="1.65" fill="#189a52"/>
<circle cx="100.0" cy="343.1" r="1.65" fill="#f21f26"/>
<circle cx="102.0" cy="343.1" r="1.65" fill="#f21f26"/>
<circle cx="103.5" cy="343.1" r="1.65" fill="#1b5ee0"/>
<circle cx="104.0" cy="344.0" r="1.65" fill="#f21f26"/>
<circle cx="105.9" cy="343.6" r="1.65" fill="#189a52"/>
<circle cx="84.4" cy="346.0" r="1.65" fill="#1b5ee0"/>
<circle cx="88.8" cy="346.0" r="1.65" fill="#189a52"/>
<circle cx="92.7" cy="346.0" r="1.65" fill="#f21f26"/>
<circle cx="96.1" cy="346.0" r="1.65" fill="#189a52"/>
<circle cx="101.0" cy="346.0" r="1.65" fill="#f21f26"/>
<circle cx="103.5" cy="346.0" r="1.65" fill="#f21f26"/>
<circle cx="107.4" cy="346.0" r="1.65" fill="#f21f26"/>
<circle cx="114.4" cy="346.0" r="1.65" fill="#20c6cf"/>
<circle cx="85.9" cy="349.0" r="1.65" fill="#f21f26"/>
<circle cx="90.3" cy="349.0" r="1.65" fill="#20c6cf"/>
<circle cx="93.2" cy="349.0" r="1.65" fill="#f21f26"/>
<circle cx="96.1" cy="348.5" r="1.65" fill="#189a52"/>
<circle cx="98.6" cy="349.0" r="1.65" fill="#20c6cf"/>
<circle cx="100.5" cy="349.0" r="1.65" fill="#20c6cf"/>
<circle cx="104.5" cy="349.0" r="1.65" fill="#189a52"/>
<circle cx="107.4" cy="349.0" r="1.65" fill="#f21f26"/>
<circle cx="110.8" cy="348.5" r="1.65" fill="#1b5ee0"/>
<circle cx="112.3" cy="348.5" r="1.65" fill="#1b5ee0"/>
<circle cx="94.2" cy="351.4" r="1.65" fill="#20c6cf"/>
<circle cx="95.7" cy="351.4" r="1.65" fill="#1b5ee0"/>
<circle cx="100.0" cy="351.4" r="1.65" fill="#20c6cf"/>
<circle cx="103.5" cy="351.4" r="1.65" fill="#189a52"/>
<circle cx="111.8" cy="351.4" r="1.65" fill="#20c6cf"/>
<circle cx="97.6" cy="353.9" r="1.65" fill="#20c6cf"/>
<circle cx="100.5" cy="353.9" r="1.65" fill="#20c6cf"/>
<circle cx="107.4" cy="354.2" r="1.65" fill="#1b5ee0"/>
<circle cx="96.1" cy="356.8" r="1.65" fill="#f21f26"/>
<circle cx="101.7" cy="359.4" r="1.65" fill="#20c6cf"/>
<circle cx="108.9" cy="362.2" r="1.65" fill="#1b5ee0"/>
<line x1="167.20" y1="302.90" x2="167.20" y2="413.00" stroke="#808080" stroke-width="1.2"/>
<line x1="166.60" y1="413.00" x2="277.20" y2="413.00" stroke="#808080" stroke-width="1.2"/>
<line x1="190.20" y1="413.00" x2="190.20" y2="414.80" stroke="#808080" stroke-width="0.8"/>
<text x="190.20" y="420.00" font-size="5.2" fill="#484848" text-anchor="middle" stroke="#484848" stroke-width="0.16">0.45</text>
<line x1="219.20" y1="413.00" x2="219.20" y2="414.80" stroke="#808080" stroke-width="0.8"/>
<text x="219.20" y="420.00" font-size="5.2" fill="#484848" text-anchor="middle" stroke="#484848" stroke-width="0.16">0.50</text>
<line x1="248.20" y1="413.00" x2="248.20" y2="414.80" stroke="#808080" stroke-width="0.8"/>
<text x="248.20" y="420.00" font-size="5.2" fill="#484848" text-anchor="middle" stroke="#484848" stroke-width="0.16">0.55</text>
<line x1="277.20" y1="413.00" x2="277.20" y2="414.80" stroke="#808080" stroke-width="0.8"/>
<text x="277.20" y="420.00" font-size="5.2" fill="#484848" text-anchor="middle" stroke="#484848" stroke-width="0.16">0.60</text>
<line x1="175.70" y1="413.00" x2="175.70" y2="414.10" stroke="#808080" stroke-width="0.7"/>
<line x1="204.70" y1="413.00" x2="204.70" y2="414.10" stroke="#808080" stroke-width="0.7"/>
<line x1="233.70" y1="413.00" x2="233.70" y2="414.10" stroke="#808080" stroke-width="0.7"/>
<line x1="262.70" y1="413.00" x2="262.70" y2="414.10" stroke="#808080" stroke-width="0.7"/>
<line x1="167.20" y1="302.90" x2="165.40" y2="302.90" stroke="#808080" stroke-width="0.8"/>
<text x="164.30" y="305.00" font-size="5.2" fill="#484848" text-anchor="end" stroke="#484848" stroke-width="0.16">0.48</text>
<line x1="167.20" y1="321.25" x2="165.40" y2="321.25" stroke="#808080" stroke-width="0.8"/>
<text x="164.30" y="323.35" font-size="5.2" fill="#484848" text-anchor="end" stroke="#484848" stroke-width="0.16">0.47</text>
<line x1="167.20" y1="339.60" x2="165.40" y2="339.60" stroke="#808080" stroke-width="0.8"/>
<text x="164.30" y="341.70" font-size="5.2" fill="#484848" text-anchor="end" stroke="#484848" stroke-width="0.16">0.46</text>
<line x1="167.20" y1="357.95" x2="165.40" y2="357.95" stroke="#808080" stroke-width="0.8"/>
<text x="164.30" y="360.05" font-size="5.2" fill="#484848" text-anchor="end" stroke="#484848" stroke-width="0.16">0.45</text>
<line x1="167.20" y1="376.30" x2="165.40" y2="376.30" stroke="#808080" stroke-width="0.8"/>
<text x="164.30" y="378.40" font-size="5.2" fill="#484848" text-anchor="end" stroke="#484848" stroke-width="0.16">0.44</text>
<line x1="167.20" y1="394.65" x2="165.40" y2="394.65" stroke="#808080" stroke-width="0.8"/>
<text x="164.30" y="396.75" font-size="5.2" fill="#484848" text-anchor="end" stroke="#484848" stroke-width="0.16">0.43</text>
<line x1="167.20" y1="413.00" x2="165.40" y2="413.00" stroke="#808080" stroke-width="0.8"/>
<text x="164.30" y="415.10" font-size="5.2" fill="#484848" text-anchor="end" stroke="#484848" stroke-width="0.16">0.42</text>
<line x1="167.20" y1="312.07" x2="166.10" y2="312.07" stroke="#808080" stroke-width="0.7"/>
<line x1="167.20" y1="330.42" x2="166.10" y2="330.42" stroke="#808080" stroke-width="0.7"/>
<line x1="167.20" y1="348.77" x2="166.10" y2="348.77" stroke="#808080" stroke-width="0.7"/>
<line x1="167.20" y1="367.12" x2="166.10" y2="367.12" stroke="#808080" stroke-width="0.7"/>
<line x1="167.20" y1="385.47" x2="166.10" y2="385.47" stroke="#808080" stroke-width="0.7"/>
<line x1="167.20" y1="403.82" x2="166.10" y2="403.82" stroke="#808080" stroke-width="0.7"/>
<text x="161.00" y="296.80" font-size="9.1" fill="#151515" text-anchor="start" stroke="#151515" stroke-width="0.1">J.CP</text>
<text x="176.80" y="305.40" font-size="5.92" fill="#3c3cf2" text-anchor="start" stroke="#3c3cf2" stroke-width="0.2">Y= 0.07894X+0.41334</text>
<text x="176.40" y="320.90" font-size="5.92" fill="#3c3cf2" text-anchor="start" stroke="#3c3cf2" stroke-width="0.2">R</text>
<text x="180.70" y="316.80" font-size="5.3" fill="#3c3cf2" text-anchor="start" stroke="#3c3cf2" stroke-width="0.2">2</text>
<text x="183.40" y="320.90" font-size="5.92" fill="#3c3cf2" text-anchor="start" stroke="#3c3cf2" stroke-width="0.2">= 0.16255</text>
<line x1="187.20" y1="360.40" x2="248.00" y2="345.60" stroke="#f25555" stroke-width="0.95"/>
<circle cx="187.2" cy="358.5" r="1.65" fill="#d4940a"/>
<circle cx="191.5" cy="361.7" r="1.65" fill="#d4940a"/>
<circle cx="187.2" cy="365.0" r="1.65" fill="#1b5ee0"/>
<circle cx="195.4" cy="364.7" r="1.65" fill="#a953e4"/>
<circle cx="195.4" cy="367.9" r="1.65" fill="#a953e4"/>
<circle cx="205.4" cy="355.2" r="1.65" fill="#189a52"/>
<circle cx="207.4" cy="355.2" r="1.65" fill="#d4940a"/>
<circle cx="203.5" cy="358.7" r="1.65" fill="#189a52"/>
<circle cx="207.4" cy="361.7" r="1.65" fill="#a953e4"/>
<circle cx="205.2" cy="365.0" r="1.65" fill="#d4940a"/>
<circle cx="211.3" cy="384.3" r="1.65" fill="#189a52"/>
<circle cx="229.5" cy="336.0" r="1.65" fill="#189a52"/>
<circle cx="229.5" cy="339.5" r="1.65" fill="#189a52"/>
<circle cx="223.6" cy="339.2" r="1.65" fill="#20c6cf"/>
<circle cx="221.4" cy="342.6" r="1.65" fill="#f21f26"/>
<circle cx="225.3" cy="342.6" r="1.65" fill="#20c6cf"/>
<circle cx="233.1" cy="342.6" r="1.65" fill="#1b5ee0"/>
<circle cx="235.5" cy="342.6" r="1.65" fill="#f21f26"/>
<circle cx="247.8" cy="342.6" r="1.65" fill="#1b5ee0"/>
<circle cx="218.9" cy="345.7" r="1.65" fill="#f21f26"/>
<circle cx="220.9" cy="345.7" r="1.65" fill="#f21f26"/>
<circle cx="222.8" cy="345.7" r="1.65" fill="#f21f26"/>
<circle cx="226.3" cy="345.7" r="1.65" fill="#1b5ee0"/>
<circle cx="228.2" cy="345.7" r="1.65" fill="#1b5ee0"/>
<circle cx="229.7" cy="345.7" r="1.65" fill="#1b5ee0"/>
<circle cx="231.6" cy="345.7" r="1.65" fill="#20c6cf"/>
<circle cx="233.6" cy="345.7" r="1.65" fill="#20c6cf"/>
<circle cx="235.5" cy="345.7" r="1.65" fill="#189a52"/>
<circle cx="237.7" cy="345.7" r="1.65" fill="#20c6cf"/>
<circle cx="245.3" cy="345.7" r="1.65" fill="#1b5ee0"/>
<circle cx="247.8" cy="345.7" r="1.65" fill="#1b5ee0"/>
<circle cx="218.9" cy="348.7" r="1.65" fill="#f21f26"/>
<circle cx="220.9" cy="348.7" r="1.65" fill="#f21f26"/>
<circle cx="222.8" cy="348.7" r="1.65" fill="#f21f26"/>
<circle cx="224.8" cy="348.7" r="1.65" fill="#f21f26"/>
<circle cx="226.7" cy="348.7" r="1.65" fill="#f21f26"/>
<circle cx="229.2" cy="348.7" r="1.65" fill="#20c6cf"/>
<circle cx="231.6" cy="348.7" r="1.65" fill="#f21f26"/>
<circle cx="239.5" cy="348.7" r="1.65" fill="#1b5ee0"/>
<circle cx="245.3" cy="348.7" r="1.65" fill="#189a52"/>
<circle cx="247.8" cy="348.7" r="1.65" fill="#1b5ee0"/>
<circle cx="221.4" cy="351.9" r="1.65" fill="#1b5ee0"/>
<circle cx="225.3" cy="351.9" r="1.65" fill="#f21f26"/>
<circle cx="227.2" cy="351.9" r="1.65" fill="#f21f26"/>
<circle cx="229.2" cy="351.9" r="1.65" fill="#f21f26"/>
<circle cx="231.6" cy="351.9" r="1.65" fill="#189a52"/>
<circle cx="233.1" cy="351.9" r="1.65" fill="#20c6cf"/>
<circle cx="235.5" cy="351.9" r="1.65" fill="#f21f26"/>
<circle cx="239.5" cy="351.9" r="1.65" fill="#20c6cf"/>
<circle cx="240.9" cy="351.9" r="1.65" fill="#1b5ee0"/>
<circle cx="243.6" cy="351.9" r="1.65" fill="#f21f26"/>
<circle cx="227.2" cy="355.3" r="1.65" fill="#20c6cf"/>
<circle cx="229.2" cy="355.3" r="1.65" fill="#20c6cf"/>
<circle cx="233.1" cy="355.3" r="1.65" fill="#f21f26"/>
<circle cx="237.5" cy="355.3" r="1.65" fill="#f21f26"/>
<circle cx="241.6" cy="355.3" r="1.65" fill="#1b5ee0"/>
<circle cx="229.2" cy="358.8" r="1.65" fill="#20c6cf"/>
<circle cx="231.6" cy="358.8" r="1.65" fill="#f21f26"/>
<circle cx="225.3" cy="361.7" r="1.65" fill="#d4940a"/>
<circle cx="217.0" cy="364.9" r="1.65" fill="#a953e4"/>
<circle cx="219.0" cy="364.9" r="1.65" fill="#a953e4"/>
<circle cx="220.9" cy="364.9" r="1.65" fill="#a953e4"/>
<circle cx="225.3" cy="364.9" r="1.65" fill="#189a52"/>
<circle cx="227.5" cy="364.9" r="1.65" fill="#d4940a"/>
<circle cx="231.6" cy="364.9" r="1.65" fill="#a953e4"/>
<line x1="299.60" y1="302.20" x2="299.60" y2="413.00" stroke="#808080" stroke-width="1.2"/>
<line x1="299.00" y1="413.00" x2="409.70" y2="413.00" stroke="#808080" stroke-width="1.2"/>
<line x1="299.50" y1="413.00" x2="299.50" y2="414.80" stroke="#808080" stroke-width="0.8"/>
<text x="299.50" y="420.00" font-size="5.2" fill="#484848" text-anchor="middle" stroke="#484848" stroke-width="0.16">0.42</text>
<line x1="311.74" y1="413.00" x2="311.74" y2="414.80" stroke="#808080" stroke-width="0.8"/>
<text x="311.74" y="420.00" font-size="5.2" fill="#484848" text-anchor="middle" stroke="#484848" stroke-width="0.16">0.44</text>
<line x1="323.99" y1="413.00" x2="323.99" y2="414.80" stroke="#808080" stroke-width="0.8"/>
<text x="323.99" y="420.00" font-size="5.2" fill="#484848" text-anchor="middle" stroke="#484848" stroke-width="0.16">0.46</text>
<line x1="336.23" y1="413.00" x2="336.23" y2="414.80" stroke="#808080" stroke-width="0.8"/>
<text x="336.23" y="420.00" font-size="5.2" fill="#484848" text-anchor="middle" stroke="#484848" stroke-width="0.16">0.48</text>
<line x1="348.48" y1="413.00" x2="348.48" y2="414.80" stroke="#808080" stroke-width="0.8"/>
<text x="348.48" y="420.00" font-size="5.2" fill="#484848" text-anchor="middle" stroke="#484848" stroke-width="0.16">0.50</text>
<line x1="360.72" y1="413.00" x2="360.72" y2="414.80" stroke="#808080" stroke-width="0.8"/>
<text x="360.72" y="420.00" font-size="5.2" fill="#484848" text-anchor="middle" stroke="#484848" stroke-width="0.16">0.52</text>
<line x1="372.97" y1="413.00" x2="372.97" y2="414.80" stroke="#808080" stroke-width="0.8"/>
<text x="372.97" y="420.00" font-size="5.2" fill="#484848" text-anchor="middle" stroke="#484848" stroke-width="0.16">0.54</text>
<line x1="385.21" y1="413.00" x2="385.21" y2="414.80" stroke="#808080" stroke-width="0.8"/>
<text x="385.21" y="420.00" font-size="5.2" fill="#484848" text-anchor="middle" stroke="#484848" stroke-width="0.16">0.56</text>
<line x1="397.46" y1="413.00" x2="397.46" y2="414.80" stroke="#808080" stroke-width="0.8"/>
<text x="397.46" y="420.00" font-size="5.2" fill="#484848" text-anchor="middle" stroke="#484848" stroke-width="0.16">0.58</text>
<line x1="409.70" y1="413.00" x2="409.70" y2="414.80" stroke="#808080" stroke-width="0.8"/>
<text x="409.70" y="420.00" font-size="5.2" fill="#484848" text-anchor="middle" stroke="#484848" stroke-width="0.16">0.60</text>
<line x1="299.60" y1="314.80" x2="297.80" y2="314.80" stroke="#808080" stroke-width="0.8"/>
<text x="296.70" y="316.90" font-size="5.2" fill="#484848" text-anchor="end" stroke="#484848" stroke-width="0.16">0.44</text>
<line x1="299.60" y1="339.35" x2="297.80" y2="339.35" stroke="#808080" stroke-width="0.8"/>
<text x="296.70" y="341.45" font-size="5.2" fill="#484848" text-anchor="end" stroke="#484848" stroke-width="0.16">0.42</text>
<line x1="299.60" y1="363.90" x2="297.80" y2="363.90" stroke="#808080" stroke-width="0.8"/>
<text x="296.70" y="366.00" font-size="5.2" fill="#484848" text-anchor="end" stroke="#484848" stroke-width="0.16">0.40</text>
<line x1="299.60" y1="388.45" x2="297.80" y2="388.45" stroke="#808080" stroke-width="0.8"/>
<text x="296.70" y="390.55" font-size="5.2" fill="#484848" text-anchor="end" stroke="#484848" stroke-width="0.16">0.38</text>
<line x1="299.60" y1="413.00" x2="297.80" y2="413.00" stroke="#808080" stroke-width="0.8"/>
<text x="296.70" y="415.10" font-size="5.2" fill="#484848" text-anchor="end" stroke="#484848" stroke-width="0.16">0.36</text>
<line x1="299.60" y1="327.08" x2="298.50" y2="327.08" stroke="#808080" stroke-width="0.7"/>
<line x1="299.60" y1="351.63" x2="298.50" y2="351.63" stroke="#808080" stroke-width="0.7"/>
<line x1="299.60" y1="376.17" x2="298.50" y2="376.17" stroke="#808080" stroke-width="0.7"/>
<line x1="299.60" y1="400.73" x2="298.50" y2="400.73" stroke="#808080" stroke-width="0.7"/>
<text x="294.20" y="297.40" font-size="9.1" fill="#151515" text-anchor="start" stroke="#151515" stroke-width="0.1">K.PIPO</text>
<text x="311.80" y="305.90" font-size="5.92" fill="#3c3cf2" text-anchor="start" stroke="#3c3cf2" stroke-width="0.2">Y= 0.11617X+0.33925</text>
<text x="311.40" y="321.40" font-size="5.92" fill="#3c3cf2" text-anchor="start" stroke="#3c3cf2" stroke-width="0.2">R</text>
<text x="315.70" y="317.30" font-size="5.3" fill="#3c3cf2" text-anchor="start" stroke="#3c3cf2" stroke-width="0.2">2</text>
<text x="318.40" y="321.40" font-size="5.92" fill="#3c3cf2" text-anchor="start" stroke="#3c3cf2" stroke-width="0.2">= 0.07974</text>
<line x1="314.50" y1="375.60" x2="402.40" y2="355.00" stroke="#f25555" stroke-width="0.95"/>
<circle cx="363.2" cy="328.8" r="1.65" fill="#189a52"/>
<circle cx="372.8" cy="328.8" r="1.65" fill="#a953e4"/>
<circle cx="382.3" cy="328.8" r="1.65" fill="#189a52"/>
<circle cx="324.1" cy="338.7" r="1.65" fill="#d4940a"/>
<circle cx="343.8" cy="338.7" r="1.65" fill="#a953e4"/>
<circle cx="353.3" cy="338.7" r="1.65" fill="#a953e4"/>
<circle cx="363.2" cy="338.7" r="1.65" fill="#d4940a"/>
<circle cx="372.8" cy="338.7" r="1.65" fill="#a953e4"/>
<circle cx="324.1" cy="348.5" r="1.65" fill="#f21f26"/>
<circle cx="334.0" cy="348.5" r="1.65" fill="#d4940a"/>
<circle cx="343.8" cy="348.5" r="1.65" fill="#f21f26"/>
<circle cx="372.8" cy="348.5" r="1.65" fill="#f21f26"/>
<circle cx="392.4" cy="348.5" r="1.65" fill="#189a52"/>
<circle cx="314.5" cy="358.4" r="1.65" fill="#189a52"/>
<circle cx="334.0" cy="358.4" r="1.65" fill="#189a52"/>
<circle cx="363.2" cy="358.4" r="1.65" fill="#1b5ee0"/>
<circle cx="372.8" cy="358.4" r="1.65" fill="#1b5ee0"/>
<circle cx="324.1" cy="368.0" r="1.65" fill="#20c6cf"/>
<circle cx="334.0" cy="368.0" r="1.65" fill="#f21f26"/>
<circle cx="343.8" cy="368.0" r="1.65" fill="#f21f26"/>
<circle cx="353.3" cy="368.0" r="1.65" fill="#20c6cf"/>
<circle cx="363.2" cy="368.0" r="1.65" fill="#f21f26"/>
<circle cx="372.8" cy="368.0" r="1.65" fill="#f21f26"/>
<circle cx="314.5" cy="377.5" r="1.65" fill="#1b5ee0"/>
<circle cx="324.1" cy="377.5" r="1.65" fill="#20c6cf"/>
<circle cx="334.0" cy="377.5" r="1.65" fill="#f21f26"/>
<circle cx="343.8" cy="377.5" r="1.65" fill="#20c6cf"/>
<circle cx="353.3" cy="377.5" r="1.65" fill="#189a52"/>
<circle cx="363.2" cy="377.5" r="1.65" fill="#f21f26"/>
<circle cx="382.3" cy="377.5" r="1.65" fill="#f21f26"/>
<circle cx="392.4" cy="377.5" r="1.65" fill="#f21f26"/>
<circle cx="402.4" cy="377.5" r="1.65" fill="#1b5ee0"/>
<circle cx="314.5" cy="387.2" r="1.65" fill="#20c6cf"/>
<circle cx="324.1" cy="387.2" r="1.65" fill="#20c6cf"/>
<circle cx="334.0" cy="387.2" r="1.65" fill="#f21f26"/>
<circle cx="343.8" cy="387.2" r="1.65" fill="#20c6cf"/>
<circle cx="353.3" cy="387.2" r="1.65" fill="#20c6cf"/>
<circle cx="334.0" cy="397.0" r="1.65" fill="#20c6cf"/>
<line x1="432.10" y1="303.00" x2="432.10" y2="413.00" stroke="#808080" stroke-width="1.2"/>
<line x1="431.50" y1="413.00" x2="542.20" y2="413.00" stroke="#808080" stroke-width="1.2"/>
<line x1="431.80" y1="413.00" x2="431.80" y2="414.80" stroke="#808080" stroke-width="0.8"/>
<text x="431.80" y="420.00" font-size="5.2" fill="#484848" text-anchor="middle" stroke="#484848" stroke-width="0.16">0.42</text>
<line x1="453.88" y1="413.00" x2="453.88" y2="414.80" stroke="#808080" stroke-width="0.8"/>
<text x="453.88" y="420.00" font-size="5.2" fill="#484848" text-anchor="middle" stroke="#484848" stroke-width="0.16">0.44</text>
<line x1="475.96" y1="413.00" x2="475.96" y2="414.80" stroke="#808080" stroke-width="0.8"/>
<text x="475.96" y="420.00" font-size="5.2" fill="#484848" text-anchor="middle" stroke="#484848" stroke-width="0.16">0.46</text>
<line x1="498.04" y1="413.00" x2="498.04" y2="414.80" stroke="#808080" stroke-width="0.8"/>
<text x="498.04" y="420.00" font-size="5.2" fill="#484848" text-anchor="middle" stroke="#484848" stroke-width="0.16">0.48</text>
<line x1="520.12" y1="413.00" x2="520.12" y2="414.80" stroke="#808080" stroke-width="0.8"/>
<text x="520.12" y="420.00" font-size="5.2" fill="#484848" text-anchor="middle" stroke="#484848" stroke-width="0.16">0.50</text>
<line x1="542.20" y1="413.00" x2="542.20" y2="414.80" stroke="#808080" stroke-width="0.8"/>
<text x="542.20" y="420.00" font-size="5.2" fill="#484848" text-anchor="middle" stroke="#484848" stroke-width="0.16">0.52</text>
<line x1="442.84" y1="413.00" x2="442.84" y2="414.10" stroke="#808080" stroke-width="0.7"/>
<line x1="464.92" y1="413.00" x2="464.92" y2="414.10" stroke="#808080" stroke-width="0.7"/>
<line x1="487.00" y1="413.00" x2="487.00" y2="414.10" stroke="#808080" stroke-width="0.7"/>
<line x1="509.08" y1="413.00" x2="509.08" y2="414.10" stroke="#808080" stroke-width="0.7"/>
<line x1="531.16" y1="413.00" x2="531.16" y2="414.10" stroke="#808080" stroke-width="0.7"/>
<line x1="432.10" y1="303.20" x2="430.30" y2="303.20" stroke="#808080" stroke-width="0.8"/>
<text x="429.20" y="305.30" font-size="5.2" fill="#484848" text-anchor="end" stroke="#484848" stroke-width="0.16">0.450</text>
<line x1="432.10" y1="330.65" x2="430.30" y2="330.65" stroke="#808080" stroke-width="0.8"/>
<text x="429.20" y="332.75" font-size="5.2" fill="#484848" text-anchor="end" stroke="#484848" stroke-width="0.16">0.445</text>
<line x1="432.10" y1="358.10" x2="430.30" y2="358.10" stroke="#808080" stroke-width="0.8"/>
<text x="429.20" y="360.20" font-size="5.2" fill="#484848" text-anchor="end" stroke="#484848" stroke-width="0.16">0.440</text>
<line x1="432.10" y1="385.55" x2="430.30" y2="385.55" stroke="#808080" stroke-width="0.8"/>
<text x="429.20" y="387.65" font-size="5.2" fill="#484848" text-anchor="end" stroke="#484848" stroke-width="0.16">0.435</text>
<line x1="432.10" y1="413.00" x2="430.30" y2="413.00" stroke="#808080" stroke-width="0.8"/>
<text x="429.20" y="415.10" font-size="5.2" fill="#484848" text-anchor="end" stroke="#484848" stroke-width="0.16">0.430</text>
<line x1="432.10" y1="316.93" x2="431.00" y2="316.93" stroke="#808080" stroke-width="0.7"/>
<line x1="432.10" y1="344.38" x2="431.00" y2="344.38" stroke="#808080" stroke-width="0.7"/>
<line x1="432.10" y1="371.82" x2="431.00" y2="371.82" stroke="#808080" stroke-width="0.7"/>
<line x1="432.10" y1="399.27" x2="431.00" y2="399.27" stroke="#808080" stroke-width="0.7"/>
<text x="426.40" y="297.40" font-size="9.1" fill="#151515" text-anchor="start" stroke="#151515" stroke-width="0.1">L.Pol</text>
<text x="441.30" y="307.70" font-size="5.92" fill="#3c3cf2" text-anchor="start" stroke="#3c3cf2" stroke-width="0.2">Y= 0.10601X+0.39028</text>
<text x="440.90" y="323.20" font-size="5.92" fill="#3c3cf2" text-anchor="start" stroke="#3c3cf2" stroke-width="0.2">R</text>
<text x="445.20" y="319.10" font-size="5.3" fill="#3c3cf2" text-anchor="start" stroke="#3c3cf2" stroke-width="0.2">2</text>
<text x="447.90" y="323.20" font-size="5.92" fill="#3c3cf2" text-anchor="start" stroke="#3c3cf2" stroke-width="0.2">= 0.70592</text>
<line x1="440.20" y1="382.60" x2="527.00" y2="337.00" stroke="#f25555" stroke-width="0.95"/>
<circle cx="483.1" cy="337.9" r="1.65" fill="#f21f26"/>
<circle cx="485.3" cy="336.8" r="1.65" fill="#f21f26"/>
<circle cx="486.9" cy="337.9" r="1.65" fill="#f21f26"/>
<circle cx="481.5" cy="340.8" r="1.65" fill="#f21f26"/>
<circle cx="483.6" cy="339.2" r="1.65" fill="#f21f26"/>
<circle cx="488.0" cy="340.1" r="1.65" fill="#f21f26"/>
<circle cx="483.6" cy="341.6" r="1.65" fill="#20c6cf"/>
<circle cx="481.5" cy="344.6" r="1.65" fill="#20c6cf"/>
<circle cx="496.0" cy="341.9" r="1.65" fill="#20c6cf"/>
<circle cx="497.1" cy="344.4" r="1.65" fill="#189a52"/>
<circle cx="509.3" cy="335.7" r="1.65" fill="#1b5ee0"/>
<circle cx="510.9" cy="336.5" r="1.65" fill="#1b5ee0"/>
<circle cx="516.4" cy="337.0" r="1.65" fill="#1b5ee0"/>
<circle cx="518.0" cy="338.1" r="1.65" fill="#f21f26"/>
<circle cx="520.2" cy="338.1" r="1.65" fill="#f21f26"/>
<circle cx="519.1" cy="339.7" r="1.65" fill="#f21f26"/>
<circle cx="521.3" cy="339.7" r="1.65" fill="#f21f26"/>
<circle cx="515.8" cy="340.3" r="1.65" fill="#f21f26"/>
<circle cx="509.3" cy="339.0" r="1.65" fill="#f21f26"/>
<circle cx="511.5" cy="339.0" r="1.65" fill="#f21f26"/>
<circle cx="504.9" cy="341.6" r="1.65" fill="#189a52"/>
<circle cx="507.6" cy="341.6" r="1.65" fill="#189a52"/>
<circle cx="502.2" cy="341.9" r="1.65" fill="#20c6cf"/>
<circle cx="509.8" cy="341.4" r="1.65" fill="#f21f26"/>
<circle cx="516.9" cy="342.5" r="1.65" fill="#189a52"/>
<circle cx="518.5" cy="343.5" r="1.65" fill="#189a52"/>
<circle cx="514.7" cy="343.0" r="1.65" fill="#f21f26"/>
<circle cx="516.4" cy="344.4" r="1.65" fill="#f21f26"/>
<circle cx="519.6" cy="342.5" r="1.65" fill="#f21f26"/>
<circle cx="520.7" cy="345.2" r="1.65" fill="#f21f26"/>
<circle cx="527.3" cy="343.0" r="1.65" fill="#f21f26"/>
<circle cx="501.1" cy="344.6" r="1.65" fill="#20c6cf"/>
<circle cx="506.0" cy="344.4" r="1.65" fill="#189a52"/>
<circle cx="508.2" cy="345.2" r="1.65" fill="#f21f26"/>
<circle cx="512.5" cy="344.6" r="1.65" fill="#1b5ee0"/>
<circle cx="513.6" cy="345.7" r="1.65" fill="#1b5ee0"/>
<circle cx="512.0" cy="346.8" r="1.65" fill="#1b5ee0"/>
<circle cx="514.7" cy="346.3" r="1.65" fill="#1b5ee0"/>
<circle cx="500.0" cy="347.4" r="1.65" fill="#20c6cf"/>
<circle cx="502.7" cy="348.5" r="1.65" fill="#20c6cf"/>
<circle cx="504.4" cy="346.3" r="1.65" fill="#f21f26"/>
<circle cx="517.5" cy="346.3" r="1.65" fill="#f21f26"/>
<circle cx="519.6" cy="346.8" r="1.65" fill="#f21f26"/>
<circle cx="522.1" cy="347.9" r="1.65" fill="#1b5ee0"/>
<circle cx="499.5" cy="350.6" r="1.65" fill="#1b5ee0"/>
<circle cx="501.6" cy="349.5" r="1.65" fill="#1b5ee0"/>
<circle cx="503.8" cy="350.1" r="1.65" fill="#20c6cf"/>
<circle cx="506.0" cy="349.0" r="1.65" fill="#20c6cf"/>
<circle cx="508.2" cy="348.5" r="1.65" fill="#20c6cf"/>
<circle cx="509.8" cy="351.2" r="1.65" fill="#20c6cf"/>
<circle cx="512.5" cy="350.3" r="1.65" fill="#f21f26"/>
<circle cx="500.5" cy="352.3" r="1.65" fill="#20c6cf"/>
<circle cx="502.2" cy="353.9" r="1.65" fill="#20c6cf"/>
<circle cx="503.8" cy="353.1" r="1.65" fill="#20c6cf"/>
<circle cx="505.5" cy="352.3" r="1.65" fill="#20c6cf"/>
<circle cx="501.1" cy="355.5" r="1.65" fill="#20c6cf"/>
<circle cx="506.0" cy="351.7" r="1.65" fill="#189a52"/>
<circle cx="506.0" cy="356.6" r="1.65" fill="#f21f26"/>
<circle cx="512.5" cy="356.6" r="1.65" fill="#f21f26"/>
<circle cx="513.1" cy="358.3" r="1.65" fill="#f21f26"/>
<circle cx="513.9" cy="359.9" r="1.65" fill="#f21f26"/>
<circle cx="484.2" cy="355.3" r="1.65" fill="#20c6cf"/>
<circle cx="486.4" cy="356.6" r="1.65" fill="#20c6cf"/>
<circle cx="485.3" cy="358.3" r="1.65" fill="#20c6cf"/>
<circle cx="483.6" cy="360.1" r="1.65" fill="#20c6cf"/>
<circle cx="490.7" cy="363.2" r="1.65" fill="#f21f26"/>
<circle cx="488.3" cy="367.0" r="1.65" fill="#f21f26"/>
<circle cx="494.2" cy="365.4" r="1.65" fill="#189a52"/>
<circle cx="449.4" cy="362.7" r="1.65" fill="#d4940a"/>
<circle cx="458.1" cy="362.7" r="1.65" fill="#1b5ee0"/>
<circle cx="456.1" cy="367.1" r="1.65" fill="#d4940a"/>
<circle cx="452.1" cy="370.1" r="1.65" fill="#a953e4"/>
<circle cx="452.1" cy="371.5" r="1.65" fill="#a953e4"/>
<circle cx="447.0" cy="376.7" r="1.65" fill="#189a52"/>
<circle cx="459.9" cy="378.2" r="1.65" fill="#a953e4"/>
<circle cx="471.2" cy="378.2" r="1.65" fill="#a953e4"/>
<circle cx="449.4" cy="380.3" r="1.65" fill="#d4940a"/>
<circle cx="446.7" cy="382.1" r="1.65" fill="#d4940a"/>
<circle cx="448.9" cy="380.9" r="1.65" fill="#189a52"/>
<circle cx="470.0" cy="383.8" r="1.65" fill="#a953e4"/>
<circle cx="472.4" cy="383.8" r="1.65" fill="#a953e4"/>
<circle cx="439.6" cy="385.4" r="1.65" fill="#a953e4"/>
<circle cx="443.4" cy="386.2" r="1.65" fill="#d4940a"/>
<circle cx="443.1" cy="387.1" r="1.65" fill="#189a52"/>
<circle cx="451.8" cy="386.2" r="1.65" fill="#d4940a"/>
<circle cx="452.1" cy="389.8" r="1.65" fill="#a953e4"/>
<circle cx="455.7" cy="389.8" r="1.65" fill="#189a52"/>
<text transform="translate(15.4,204.5) rotate(-90)" text-anchor="middle" font-size="17.4" fill="#111">GC12</text>
<text x="291.2" y="443.3" text-anchor="middle" font-size="16.5" fill="#111">GC3</text>
<rect x="92.5" y="445.3" width="408" height="11.5" fill="#fff" stroke="#b0b0b0" stroke-width="0.9"/>
<g font-style="italic" font-size="6.9" fill="#222">
<circle cx="102.1" cy="450.6" r="1.3" fill="#ee2b2b"/><text x="111.9" y="452.9">Raphanus sativus</text>
<circle cx="169.8" cy="450.6" r="1.3" fill="#1b5ee0"/><text x="179.7" y="452.9">Brassica oleracea</text>
<circle cx="239" cy="450.6" r="1.3" fill="#189a52"/><text x="248.6" y="452.9">Brassica rapa</text>
<circle cx="297.7" cy="450.6" r="1.3" fill="#a953e4"/><text x="306.6" y="452.9">Sisymbrium loeselii</text>
<circle cx="370.8" cy="450.6" r="1.3" fill="#d4940a"/><text x="380.3" y="452.9">Rapistrum rugosum</text>
<circle cx="444.3" cy="450.6" r="1.3" fill="#20c6cf"/><text x="454" y="452.9">Brassica juncea</text>
</g>

</svg></body></html>
